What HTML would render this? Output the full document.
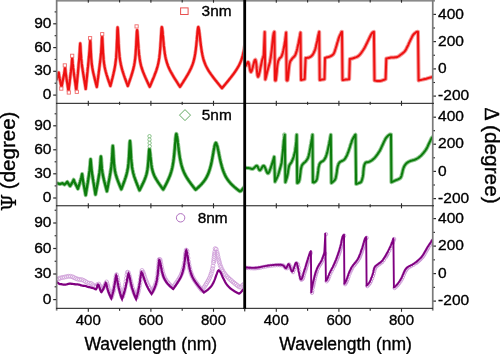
<!DOCTYPE html>
<html><head><meta charset="utf-8"><style>
html,body{margin:0;padding:0;background:#fff;width:500px;height:354px;overflow:hidden}
svg{display:block}
</style></head><body>
<svg width="500" height="354" viewBox="0 0 500 354">
<rect width="500" height="354" fill="#fff"/>
<defs><clipPath id="c1"><rect x="57" y="1" width="186" height="102"/></clipPath><clipPath id="c2"><rect x="57" y="104" width="186" height="101"/></clipPath><clipPath id="c3"><rect x="57" y="206" width="186" height="102"/></clipPath><clipPath id="c4"><rect x="246" y="1" width="186" height="102"/></clipPath><clipPath id="c5"><rect x="246" y="104" width="186" height="101"/></clipPath><clipPath id="c6"><rect x="246" y="206" width="186" height="102"/></clipPath></defs>
<path d="M56.5 80.0 L56.8 79.2 L57.0 78.3 L57.3 77.5 L57.6 76.6 L57.9 75.7 L58.2 74.8 L58.4 73.7 L58.7 72.5 L59.0 74.3 L59.2 76.0 L59.5 77.4 L59.7 78.7 L60.0 80.0 L60.2 81.2 L60.5 82.4 L60.7 83.6 L61.0 84.9 L61.2 86.1 L61.5 87.3 L61.8 86.0 L62.0 84.7 L62.3 83.4 L62.5 82.1 L62.8 80.8 L63.0 79.5 L63.3 78.2 L63.6 76.8 L63.8 75.5 L64.1 74.1 L64.3 72.6 L64.6 71.0 L64.8 69.0 L65.1 67.2 L65.4 69.6 L65.6 72.1 L65.9 74.2 L66.1 76.1 L66.4 77.9 L66.7 79.6 L66.9 81.3 L67.2 83.0 L67.5 84.7 L67.7 86.4 L68.0 88.1 L68.2 89.8 L68.5 91.5 L68.8 89.3 L69.0 87.1 L69.3 85.0 L69.6 82.8 L69.8 80.6 L70.1 78.4 L70.3 76.2 L70.6 74.0 L70.9 71.7 L71.1 69.4 L71.4 66.9 L71.7 64.1 L71.9 60.9 L72.2 57.8 L72.5 60.3 L72.7 63.2 L73.0 65.7 L73.2 67.9 L73.5 69.9 L73.7 71.8 L74.0 73.8 L74.2 75.7 L74.5 77.5 L74.8 79.4 L75.0 81.3 L75.3 83.1 L75.5 85.0 L75.8 86.8 L76.0 88.7 L76.3 90.5 L76.6 87.7 L76.8 84.8 L77.1 82.0 L77.3 79.1 L77.6 76.3 L77.9 73.4 L78.1 70.6 L78.4 67.7 L78.6 64.7 L78.9 61.8 L79.2 58.7 L79.4 55.4 L79.7 51.7 L79.9 47.4 L80.2 43.4 L80.5 46.5 L80.7 51.1 L81.0 55.2 L81.2 58.4 L81.5 61.0 L81.7 63.2 L82.0 65.2 L82.2 67.0 L82.5 68.8 L82.7 70.4 L83.0 72.1 L83.2 73.7 L83.5 75.2 L83.7 76.8 L84.0 78.3 L84.2 79.9 L84.5 81.4 L84.7 82.9 L85.0 84.5 L85.2 86.0 L85.5 87.5 L85.7 89.0 L86.0 86.5 L86.2 84.1 L86.5 81.6 L86.7 79.1 L87.0 76.6 L87.2 74.2 L87.5 71.7 L87.7 69.2 L88.0 66.7 L88.2 64.1 L88.5 61.6 L88.7 59.0 L89.0 56.3 L89.2 53.5 L89.5 50.5 L89.7 47.0 L90.0 43.1 L90.2 39.8 L90.5 42.9 L90.7 48.4 L91.0 53.6 L91.2 57.8 L91.5 61.0 L91.7 63.5 L92.0 65.5 L92.2 67.2 L92.5 68.8 L92.7 70.1 L93.0 71.4 L93.2 72.6 L93.5 73.8 L93.8 74.9 L94.0 76.0 L94.3 77.0 L94.5 78.1 L94.8 79.1 L95.0 80.1 L95.3 81.1 L95.5 82.1 L95.8 83.1 L96.0 84.1 L96.3 85.0 L96.5 86.0 L96.8 87.0 L97.1 85.1 L97.3 83.3 L97.6 81.4 L97.8 79.5 L98.1 77.7 L98.3 75.8 L98.6 73.9 L98.8 72.0 L99.1 70.1 L99.3 68.1 L99.6 66.1 L99.8 64.1 L100.1 62.1 L100.3 59.9 L100.6 57.6 L100.8 55.1 L101.1 52.2 L101.3 48.8 L101.6 44.4 L101.8 39.4 L102.1 35.8 L102.4 38.2 L102.6 42.9 L102.9 48.1 L103.1 52.7 L103.4 56.4 L103.6 59.4 L103.9 61.8 L104.1 63.8 L104.4 65.4 L104.6 66.9 L104.9 68.1 L105.1 69.3 L105.4 70.3 L105.6 71.3 L105.9 72.3 L106.1 73.1 L106.4 74.0 L106.6 74.8 L106.9 75.6 L107.1 76.4 L107.4 77.2 L107.6 78.0 L107.9 78.7 L108.1 79.5 L108.4 80.2 L108.6 81.0 L108.9 81.7 L109.1 82.4 L109.4 83.1 L109.6 83.9 L109.9 84.6 L110.1 85.3 L110.4 86.0 L110.7 85.0 L110.9 84.0 L111.2 83.1 L111.4 82.1 L111.7 81.1 L111.9 80.1 L112.2 79.0 L112.5 78.0 L112.7 77.0 L113.0 75.9 L113.2 74.9 L113.5 73.8 L113.7 72.6 L114.0 71.5 L114.3 70.3 L114.5 69.0 L114.8 67.6 L115.0 66.2 L115.3 64.5 L115.5 62.7 L115.8 60.5 L116.1 57.9 L116.3 54.6 L116.6 50.3 L116.8 44.7 L117.1 37.8 L117.3 30.9 L117.6 27.3 L117.9 29.3 L118.1 33.5 L118.4 38.5 L118.6 43.4 L118.9 47.6 L119.1 51.2 L119.4 54.2 L119.6 56.7 L119.9 58.7 L120.1 60.5 L120.4 62.1 L120.7 63.5 L120.9 64.7 L121.2 65.9 L121.4 66.9 L121.7 67.9 L121.9 68.9 L122.2 69.8 L122.4 70.6 L122.7 71.5 L123.0 72.3 L123.2 73.1 L123.5 73.9 L123.7 74.6 L124.0 75.4 L124.2 76.1 L124.5 76.9 L124.7 77.6 L125.0 78.3 L125.2 79.0 L125.5 79.8 L125.8 80.5 L126.0 81.2 L126.3 81.9 L126.5 82.6 L126.8 83.3 L127.0 83.9 L127.3 84.6 L127.5 85.3 L127.8 86.0 L128.1 85.3 L128.3 84.6 L128.6 83.9 L128.8 83.2 L129.1 82.4 L129.3 81.7 L129.6 81.0 L129.8 80.3 L130.1 79.5 L130.3 78.8 L130.6 78.1 L130.8 77.3 L131.1 76.6 L131.3 75.8 L131.6 75.0 L131.8 74.2 L132.1 73.4 L132.3 72.6 L132.6 71.7 L132.8 70.8 L133.1 69.9 L133.3 68.9 L133.6 67.9 L133.8 66.8 L134.1 65.7 L134.3 64.4 L134.6 62.9 L134.8 61.3 L135.1 59.3 L135.3 57.0 L135.6 54.3 L135.8 50.9 L136.1 46.7 L136.3 41.8 L136.6 36.6 L136.8 32.2 L137.1 30.0 L137.4 31.4 L137.6 34.2 L137.9 37.9 L138.1 41.8 L138.4 45.5 L138.6 48.9 L138.9 51.8 L139.1 54.4 L139.4 56.5 L139.6 58.4 L139.9 60.0 L140.1 61.5 L140.4 62.8 L140.6 63.9 L140.9 65.0 L141.1 66.0 L141.4 66.9 L141.6 67.7 L141.9 68.5 L142.1 69.3 L142.4 70.0 L142.6 70.7 L142.9 71.4 L143.1 72.1 L143.4 72.7 L143.7 73.4 L143.9 74.0 L144.2 74.6 L144.4 75.2 L144.7 75.8 L144.9 76.4 L145.2 77.0 L145.4 77.5 L145.7 78.1 L145.9 78.7 L146.2 79.2 L146.4 79.8 L146.7 80.3 L146.9 80.9 L147.2 81.4 L147.4 82.0 L147.7 82.5 L147.9 83.1 L148.2 83.6 L148.4 84.1 L148.7 84.7 L148.9 85.2 L149.2 85.7 L149.4 86.3 L149.7 86.8 L150.0 86.2 L150.2 85.6 L150.5 85.1 L150.7 84.5 L151.0 83.9 L151.2 83.3 L151.5 82.7 L151.7 82.1 L152.0 81.5 L152.2 80.9 L152.5 80.3 L152.7 79.7 L153.0 79.1 L153.2 78.5 L153.5 77.9 L153.7 77.3 L154.0 76.6 L154.2 76.0 L154.5 75.4 L154.7 74.7 L155.0 74.0 L155.2 73.4 L155.5 72.7 L155.8 72.0 L156.0 71.3 L156.3 70.6 L156.5 69.8 L156.8 69.0 L157.0 68.2 L157.3 67.4 L157.5 66.5 L157.8 65.5 L158.0 64.5 L158.3 63.4 L158.5 62.2 L158.8 60.8 L159.0 59.4 L159.3 57.7 L159.5 55.7 L159.8 53.5 L160.0 50.8 L160.3 47.7 L160.5 44.1 L160.8 40.1 L161.0 35.8 L161.3 31.7 L161.5 28.5 L161.8 27.0 L162.1 27.8 L162.3 29.4 L162.6 31.7 L162.8 34.4 L163.1 37.2 L163.3 40.1 L163.6 42.8 L163.8 45.4 L164.1 47.7 L164.3 49.8 L164.6 51.7 L164.8 53.5 L165.1 55.0 L165.3 56.4 L165.6 57.7 L165.8 58.8 L166.1 59.9 L166.4 60.8 L166.6 61.7 L166.9 62.6 L167.1 63.4 L167.4 64.1 L167.6 64.8 L167.9 65.5 L168.1 66.1 L168.4 66.8 L168.6 67.4 L168.9 67.9 L169.1 68.5 L169.4 69.0 L169.6 69.5 L169.9 70.1 L170.1 70.6 L170.4 71.0 L170.6 71.5 L170.9 72.0 L171.2 72.5 L171.4 72.9 L171.7 73.4 L171.9 73.8 L172.2 74.3 L172.4 74.7 L172.7 75.1 L172.9 75.6 L173.2 76.0 L173.4 76.4 L173.7 76.8 L173.9 77.3 L174.2 77.7 L174.4 78.1 L174.7 78.5 L174.9 78.9 L175.2 79.3 L175.4 79.7 L175.7 80.1 L176.0 80.5 L176.2 80.9 L176.5 81.3 L176.7 81.7 L177.0 82.1 L177.2 82.5 L177.5 82.9 L177.7 83.3 L178.0 83.7 L178.2 84.1 L178.5 84.5 L178.7 84.9 L179.0 85.2 L179.2 85.6 L179.5 86.0 L179.7 86.4 L180.0 86.8 L180.3 86.4 L180.5 86.0 L180.8 85.7 L181.0 85.3 L181.3 84.9 L181.5 84.5 L181.8 84.1 L182.0 83.7 L182.3 83.3 L182.5 83.0 L182.8 82.6 L183.0 82.2 L183.3 81.8 L183.5 81.4 L183.8 81.0 L184.0 80.6 L184.3 80.2 L184.5 79.8 L184.8 79.4 L185.0 79.0 L185.3 78.6 L185.5 78.2 L185.8 77.8 L186.0 77.4 L186.3 77.0 L186.5 76.6 L186.8 76.2 L187.0 75.7 L187.3 75.3 L187.5 74.9 L187.8 74.5 L188.0 74.0 L188.3 73.6 L188.5 73.1 L188.8 72.7 L189.0 72.2 L189.3 71.8 L189.5 71.3 L189.8 70.8 L190.0 70.3 L190.3 69.8 L190.5 69.3 L190.8 68.8 L191.0 68.3 L191.3 67.7 L191.5 67.1 L191.8 66.5 L192.0 65.9 L192.3 65.3 L192.5 64.6 L192.8 63.9 L193.0 63.2 L193.3 62.4 L193.5 61.5 L193.8 60.6 L194.0 59.6 L194.3 58.6 L194.5 57.4 L194.8 56.1 L195.0 54.7 L195.3 53.2 L195.5 51.5 L195.8 49.6 L196.0 47.5 L196.3 45.1 L196.5 42.6 L196.8 39.9 L197.0 37.0 L197.3 34.2 L197.5 31.6 L197.8 29.4 L198.0 27.8 L198.3 27.0 L198.6 27.6 L198.8 28.6 L199.1 30.1 L199.3 32.0 L199.6 34.1 L199.8 36.3 L200.1 38.5 L200.3 40.8 L200.6 42.9 L200.8 45.0 L201.1 46.9 L201.3 48.6 L201.6 50.3 L201.8 51.8 L202.1 53.2 L202.3 54.5 L202.6 55.7 L202.8 56.8 L203.1 57.8 L203.3 58.8 L203.6 59.7 L203.8 60.5 L204.1 61.3 L204.4 62.0 L204.6 62.7 L204.9 63.4 L205.1 64.0 L205.4 64.6 L205.6 65.2 L205.9 65.7 L206.1 66.2 L206.4 66.7 L206.6 67.2 L206.9 67.7 L207.1 68.2 L207.4 68.6 L207.6 69.1 L207.9 69.5 L208.1 69.9 L208.4 70.3 L208.6 70.8 L208.9 71.2 L209.1 71.5 L209.4 71.9 L209.6 72.3 L209.9 72.7 L210.2 73.1 L210.4 73.4 L210.7 73.8 L210.9 74.1 L211.2 74.5 L211.4 74.8 L211.7 75.2 L211.9 75.5 L212.2 75.9 L212.4 76.2 L212.7 76.6 L212.9 76.9 L213.2 77.2 L213.4 77.6 L213.7 77.9 L213.9 78.2 L214.2 78.5 L214.4 78.9 L214.7 79.2 L214.9 79.5 L215.2 79.8 L215.4 80.2 L215.7 80.5 L215.9 80.8 L216.2 81.1 L216.5 81.4 L216.7 81.7 L217.0 82.0 L217.2 82.4 L217.5 82.7 L217.7 83.0 L218.0 83.3 L218.2 83.6 L218.5 83.9 L218.7 84.2 L219.0 84.5 L219.2 84.8 L219.5 85.2 L219.7 85.5 L220.0 85.8 L220.2 86.1 L220.5 86.4 L220.7 86.7 L221.0 87.0 L221.2 87.3 L221.5 87.6 L221.7 87.9 L222.0 88.2 L222.2 87.9 L222.5 87.6 L222.8 87.3 L223.0 87.0 L223.2 86.7 L223.5 86.4 L223.8 86.1 L224.0 85.8 L224.2 85.5 L224.5 85.2 L224.8 84.9 L225.0 84.6 L225.2 84.3 L225.5 84.0 L225.8 83.7 L226.0 83.4 L226.2 83.1 L226.5 82.8 L226.8 82.5 L227.0 82.2 L227.2 81.9 L227.5 81.6 L227.8 81.3 L228.0 81.0 L228.2 80.7 L228.5 80.4 L228.8 80.0 L229.0 79.7 L229.2 79.4 L229.5 79.1 L229.8 78.8 L230.0 78.5 L230.2 78.2 L230.5 77.8 L230.8 77.5 L231.0 77.2 L231.2 76.9 L231.5 76.6 L231.8 76.2 L232.0 75.9 L232.2 75.6 L232.5 75.3 L232.8 74.9 L233.0 74.6 L233.2 74.3 L233.5 73.9 L233.8 73.6 L234.0 73.2 L234.2 72.9 L234.5 72.5 L234.8 72.2 L235.0 71.8 L235.2 71.5 L235.5 71.1 L235.8 70.7 L236.0 70.3 L236.2 70.0 L236.5 69.6 L236.8 69.2 L237.0 68.8 L237.2 68.4 L237.5 68.0 L237.8 67.5 L238.0 67.1 L238.2 66.7 L238.5 66.2 L238.8 65.8 L239.0 65.3 L239.2 64.8 L239.5 64.3 L239.8 63.8 L240.0 63.2 L240.2 62.7 L240.5 62.1 L240.8 61.5 L241.0 60.8 L241.2 60.2 L241.5 59.5 L241.8 58.7 L242.0 57.9 L242.2 57.1 L242.5 56.2 L242.8 55.3 L243.0 54.3 L243.2 53.2 L243.5 52.1 L243.8 50.9 L244.0 49.5 L244.2 48.1 L244.5 46.6 L244.8 44.9 L245.0 43.2 L245.2 41.3 L245.5 39.3 L245.8 37.2 L246.0 35.0 L246.2 32.8 L246.5 30.7 L246.8 28.5 L247.0 26.6 L247.2 24.9 L247.5 23.5 L247.8 22.5 L248.0 22.0" fill="none" stroke="#f59a9a" stroke-width="3.6" stroke-linejoin="round" clip-path="url(#c1)"/>
<path d="M56.5 80.0 L56.8 79.2 L57.0 78.3 L57.3 77.5 L57.6 76.6 L57.9 75.7 L58.2 74.8 L58.4 73.7 L58.7 72.5 L59.0 74.3 L59.2 76.0 L59.5 77.4 L59.7 78.7 L60.0 80.0 L60.2 81.2 L60.5 82.4 L60.7 83.6 L61.0 84.9 L61.2 86.1 L61.5 87.3 L61.8 86.0 L62.0 84.7 L62.3 83.4 L62.5 82.1 L62.8 80.8 L63.0 79.5 L63.3 78.2 L63.6 76.8 L63.8 75.5 L64.1 74.1 L64.3 72.6 L64.6 71.0 L64.8 69.0 L65.1 67.2 L65.4 69.6 L65.6 72.1 L65.9 74.2 L66.1 76.1 L66.4 77.9 L66.7 79.6 L66.9 81.3 L67.2 83.0 L67.5 84.7 L67.7 86.4 L68.0 88.1 L68.2 89.8 L68.5 91.5 L68.8 89.3 L69.0 87.1 L69.3 85.0 L69.6 82.8 L69.8 80.6 L70.1 78.4 L70.3 76.2 L70.6 74.0 L70.9 71.7 L71.1 69.4 L71.4 66.9 L71.7 64.1 L71.9 60.9 L72.2 57.8 L72.5 60.3 L72.7 63.2 L73.0 65.7 L73.2 67.9 L73.5 69.9 L73.7 71.8 L74.0 73.8 L74.2 75.7 L74.5 77.5 L74.8 79.4 L75.0 81.3 L75.3 83.1 L75.5 85.0 L75.8 86.8 L76.0 88.7 L76.3 90.5 L76.6 87.7 L76.8 84.8 L77.1 82.0 L77.3 79.1 L77.6 76.3 L77.9 73.4 L78.1 70.6 L78.4 67.7 L78.6 64.7 L78.9 61.8 L79.2 58.7 L79.4 55.4 L79.7 51.7 L79.9 47.4 L80.2 43.4 L80.5 46.5 L80.7 51.1 L81.0 55.2 L81.2 58.4 L81.5 61.0 L81.7 63.2 L82.0 65.2 L82.2 67.0 L82.5 68.8 L82.7 70.4 L83.0 72.1 L83.2 73.7 L83.5 75.2 L83.7 76.8 L84.0 78.3 L84.2 79.9 L84.5 81.4 L84.7 82.9 L85.0 84.5 L85.2 86.0 L85.5 87.5 L85.7 89.0 L86.0 86.5 L86.2 84.1 L86.5 81.6 L86.7 79.1 L87.0 76.6 L87.2 74.2 L87.5 71.7 L87.7 69.2 L88.0 66.7 L88.2 64.1 L88.5 61.6 L88.7 59.0 L89.0 56.3 L89.2 53.5 L89.5 50.5 L89.7 47.0 L90.0 43.1 L90.2 39.8 L90.5 42.9 L90.7 48.4 L91.0 53.6 L91.2 57.8 L91.5 61.0 L91.7 63.5 L92.0 65.5 L92.2 67.2 L92.5 68.8 L92.7 70.1 L93.0 71.4 L93.2 72.6 L93.5 73.8 L93.8 74.9 L94.0 76.0 L94.3 77.0 L94.5 78.1 L94.8 79.1 L95.0 80.1 L95.3 81.1 L95.5 82.1 L95.8 83.1 L96.0 84.1 L96.3 85.0 L96.5 86.0 L96.8 87.0 L97.1 85.1 L97.3 83.3 L97.6 81.4 L97.8 79.5 L98.1 77.7 L98.3 75.8 L98.6 73.9 L98.8 72.0 L99.1 70.1 L99.3 68.1 L99.6 66.1 L99.8 64.1 L100.1 62.1 L100.3 59.9 L100.6 57.6 L100.8 55.1 L101.1 52.2 L101.3 48.8 L101.6 44.4 L101.8 39.4 L102.1 35.8 L102.4 38.2 L102.6 42.9 L102.9 48.1 L103.1 52.7 L103.4 56.4 L103.6 59.4 L103.9 61.8 L104.1 63.8 L104.4 65.4 L104.6 66.9 L104.9 68.1 L105.1 69.3 L105.4 70.3 L105.6 71.3 L105.9 72.3 L106.1 73.1 L106.4 74.0 L106.6 74.8 L106.9 75.6 L107.1 76.4 L107.4 77.2 L107.6 78.0 L107.9 78.7 L108.1 79.5 L108.4 80.2 L108.6 81.0 L108.9 81.7 L109.1 82.4 L109.4 83.1 L109.6 83.9 L109.9 84.6 L110.1 85.3 L110.4 86.0 L110.7 85.0 L110.9 84.0 L111.2 83.1 L111.4 82.1 L111.7 81.1 L111.9 80.1 L112.2 79.0 L112.5 78.0 L112.7 77.0 L113.0 75.9 L113.2 74.9 L113.5 73.8 L113.7 72.6 L114.0 71.5 L114.3 70.3 L114.5 69.0 L114.8 67.6 L115.0 66.2 L115.3 64.5 L115.5 62.7 L115.8 60.5 L116.1 57.9 L116.3 54.6 L116.6 50.3 L116.8 44.7 L117.1 37.8 L117.3 30.9 L117.6 27.3 L117.9 29.3 L118.1 33.5 L118.4 38.5 L118.6 43.4 L118.9 47.6 L119.1 51.2 L119.4 54.2 L119.6 56.7 L119.9 58.7 L120.1 60.5 L120.4 62.1 L120.7 63.5 L120.9 64.7 L121.2 65.9 L121.4 66.9 L121.7 67.9 L121.9 68.9 L122.2 69.8 L122.4 70.6 L122.7 71.5 L123.0 72.3 L123.2 73.1 L123.5 73.9 L123.7 74.6 L124.0 75.4 L124.2 76.1 L124.5 76.9 L124.7 77.6 L125.0 78.3 L125.2 79.0 L125.5 79.8 L125.8 80.5 L126.0 81.2 L126.3 81.9 L126.5 82.6 L126.8 83.3 L127.0 83.9 L127.3 84.6 L127.5 85.3 L127.8 86.0 L128.1 85.3 L128.3 84.6 L128.6 83.9 L128.8 83.2 L129.1 82.4 L129.3 81.7 L129.6 81.0 L129.8 80.3 L130.1 79.5 L130.3 78.8 L130.6 78.1 L130.8 77.3 L131.1 76.6 L131.3 75.8 L131.6 75.0 L131.8 74.2 L132.1 73.4 L132.3 72.6 L132.6 71.7 L132.8 70.8 L133.1 69.9 L133.3 68.9 L133.6 67.9 L133.8 66.8 L134.1 65.7 L134.3 64.4 L134.6 62.9 L134.8 61.3 L135.1 59.3 L135.3 57.0 L135.6 54.3 L135.8 50.9 L136.1 46.7 L136.3 41.8 L136.6 36.6 L136.8 32.2 L137.1 30.0 L137.4 31.4 L137.6 34.2 L137.9 37.9 L138.1 41.8 L138.4 45.5 L138.6 48.9 L138.9 51.8 L139.1 54.4 L139.4 56.5 L139.6 58.4 L139.9 60.0 L140.1 61.5 L140.4 62.8 L140.6 63.9 L140.9 65.0 L141.1 66.0 L141.4 66.9 L141.6 67.7 L141.9 68.5 L142.1 69.3 L142.4 70.0 L142.6 70.7 L142.9 71.4 L143.1 72.1 L143.4 72.7 L143.7 73.4 L143.9 74.0 L144.2 74.6 L144.4 75.2 L144.7 75.8 L144.9 76.4 L145.2 77.0 L145.4 77.5 L145.7 78.1 L145.9 78.7 L146.2 79.2 L146.4 79.8 L146.7 80.3 L146.9 80.9 L147.2 81.4 L147.4 82.0 L147.7 82.5 L147.9 83.1 L148.2 83.6 L148.4 84.1 L148.7 84.7 L148.9 85.2 L149.2 85.7 L149.4 86.3 L149.7 86.8 L150.0 86.2 L150.2 85.6 L150.5 85.1 L150.7 84.5 L151.0 83.9 L151.2 83.3 L151.5 82.7 L151.7 82.1 L152.0 81.5 L152.2 80.9 L152.5 80.3 L152.7 79.7 L153.0 79.1 L153.2 78.5 L153.5 77.9 L153.7 77.3 L154.0 76.6 L154.2 76.0 L154.5 75.4 L154.7 74.7 L155.0 74.0 L155.2 73.4 L155.5 72.7 L155.8 72.0 L156.0 71.3 L156.3 70.6 L156.5 69.8 L156.8 69.0 L157.0 68.2 L157.3 67.4 L157.5 66.5 L157.8 65.5 L158.0 64.5 L158.3 63.4 L158.5 62.2 L158.8 60.8 L159.0 59.4 L159.3 57.7 L159.5 55.7 L159.8 53.5 L160.0 50.8 L160.3 47.7 L160.5 44.1 L160.8 40.1 L161.0 35.8 L161.3 31.7 L161.5 28.5 L161.8 27.0 L162.1 27.8 L162.3 29.4 L162.6 31.7 L162.8 34.4 L163.1 37.2 L163.3 40.1 L163.6 42.8 L163.8 45.4 L164.1 47.7 L164.3 49.8 L164.6 51.7 L164.8 53.5 L165.1 55.0 L165.3 56.4 L165.6 57.7 L165.8 58.8 L166.1 59.9 L166.4 60.8 L166.6 61.7 L166.9 62.6 L167.1 63.4 L167.4 64.1 L167.6 64.8 L167.9 65.5 L168.1 66.1 L168.4 66.8 L168.6 67.4 L168.9 67.9 L169.1 68.5 L169.4 69.0 L169.6 69.5 L169.9 70.1 L170.1 70.6 L170.4 71.0 L170.6 71.5 L170.9 72.0 L171.2 72.5 L171.4 72.9 L171.7 73.4 L171.9 73.8 L172.2 74.3 L172.4 74.7 L172.7 75.1 L172.9 75.6 L173.2 76.0 L173.4 76.4 L173.7 76.8 L173.9 77.3 L174.2 77.7 L174.4 78.1 L174.7 78.5 L174.9 78.9 L175.2 79.3 L175.4 79.7 L175.7 80.1 L176.0 80.5 L176.2 80.9 L176.5 81.3 L176.7 81.7 L177.0 82.1 L177.2 82.5 L177.5 82.9 L177.7 83.3 L178.0 83.7 L178.2 84.1 L178.5 84.5 L178.7 84.9 L179.0 85.2 L179.2 85.6 L179.5 86.0 L179.7 86.4 L180.0 86.8 L180.3 86.4 L180.5 86.0 L180.8 85.7 L181.0 85.3 L181.3 84.9 L181.5 84.5 L181.8 84.1 L182.0 83.7 L182.3 83.3 L182.5 83.0 L182.8 82.6 L183.0 82.2 L183.3 81.8 L183.5 81.4 L183.8 81.0 L184.0 80.6 L184.3 80.2 L184.5 79.8 L184.8 79.4 L185.0 79.0 L185.3 78.6 L185.5 78.2 L185.8 77.8 L186.0 77.4 L186.3 77.0 L186.5 76.6 L186.8 76.2 L187.0 75.7 L187.3 75.3 L187.5 74.9 L187.8 74.5 L188.0 74.0 L188.3 73.6 L188.5 73.1 L188.8 72.7 L189.0 72.2 L189.3 71.8 L189.5 71.3 L189.8 70.8 L190.0 70.3 L190.3 69.8 L190.5 69.3 L190.8 68.8 L191.0 68.3 L191.3 67.7 L191.5 67.1 L191.8 66.5 L192.0 65.9 L192.3 65.3 L192.5 64.6 L192.8 63.9 L193.0 63.2 L193.3 62.4 L193.5 61.5 L193.8 60.6 L194.0 59.6 L194.3 58.6 L194.5 57.4 L194.8 56.1 L195.0 54.7 L195.3 53.2 L195.5 51.5 L195.8 49.6 L196.0 47.5 L196.3 45.1 L196.5 42.6 L196.8 39.9 L197.0 37.0 L197.3 34.2 L197.5 31.6 L197.8 29.4 L198.0 27.8 L198.3 27.0 L198.6 27.6 L198.8 28.6 L199.1 30.1 L199.3 32.0 L199.6 34.1 L199.8 36.3 L200.1 38.5 L200.3 40.8 L200.6 42.9 L200.8 45.0 L201.1 46.9 L201.3 48.6 L201.6 50.3 L201.8 51.8 L202.1 53.2 L202.3 54.5 L202.6 55.7 L202.8 56.8 L203.1 57.8 L203.3 58.8 L203.6 59.7 L203.8 60.5 L204.1 61.3 L204.4 62.0 L204.6 62.7 L204.9 63.4 L205.1 64.0 L205.4 64.6 L205.6 65.2 L205.9 65.7 L206.1 66.2 L206.4 66.7 L206.6 67.2 L206.9 67.7 L207.1 68.2 L207.4 68.6 L207.6 69.1 L207.9 69.5 L208.1 69.9 L208.4 70.3 L208.6 70.8 L208.9 71.2 L209.1 71.5 L209.4 71.9 L209.6 72.3 L209.9 72.7 L210.2 73.1 L210.4 73.4 L210.7 73.8 L210.9 74.1 L211.2 74.5 L211.4 74.8 L211.7 75.2 L211.9 75.5 L212.2 75.9 L212.4 76.2 L212.7 76.6 L212.9 76.9 L213.2 77.2 L213.4 77.6 L213.7 77.9 L213.9 78.2 L214.2 78.5 L214.4 78.9 L214.7 79.2 L214.9 79.5 L215.2 79.8 L215.4 80.2 L215.7 80.5 L215.9 80.8 L216.2 81.1 L216.5 81.4 L216.7 81.7 L217.0 82.0 L217.2 82.4 L217.5 82.7 L217.7 83.0 L218.0 83.3 L218.2 83.6 L218.5 83.9 L218.7 84.2 L219.0 84.5 L219.2 84.8 L219.5 85.2 L219.7 85.5 L220.0 85.8 L220.2 86.1 L220.5 86.4 L220.7 86.7 L221.0 87.0 L221.2 87.3 L221.5 87.6 L221.7 87.9 L222.0 88.2 L222.2 87.9 L222.5 87.6 L222.8 87.3 L223.0 87.0 L223.2 86.7 L223.5 86.4 L223.8 86.1 L224.0 85.8 L224.2 85.5 L224.5 85.2 L224.8 84.9 L225.0 84.6 L225.2 84.3 L225.5 84.0 L225.8 83.7 L226.0 83.4 L226.2 83.1 L226.5 82.8 L226.8 82.5 L227.0 82.2 L227.2 81.9 L227.5 81.6 L227.8 81.3 L228.0 81.0 L228.2 80.7 L228.5 80.4 L228.8 80.0 L229.0 79.7 L229.2 79.4 L229.5 79.1 L229.8 78.8 L230.0 78.5 L230.2 78.2 L230.5 77.8 L230.8 77.5 L231.0 77.2 L231.2 76.9 L231.5 76.6 L231.8 76.2 L232.0 75.9 L232.2 75.6 L232.5 75.3 L232.8 74.9 L233.0 74.6 L233.2 74.3 L233.5 73.9 L233.8 73.6 L234.0 73.2 L234.2 72.9 L234.5 72.5 L234.8 72.2 L235.0 71.8 L235.2 71.5 L235.5 71.1 L235.8 70.7 L236.0 70.3 L236.2 70.0 L236.5 69.6 L236.8 69.2 L237.0 68.8 L237.2 68.4 L237.5 68.0 L237.8 67.5 L238.0 67.1 L238.2 66.7 L238.5 66.2 L238.8 65.8 L239.0 65.3 L239.2 64.8 L239.5 64.3 L239.8 63.8 L240.0 63.2 L240.2 62.7 L240.5 62.1 L240.8 61.5 L241.0 60.8 L241.2 60.2 L241.5 59.5 L241.8 58.7 L242.0 57.9 L242.2 57.1 L242.5 56.2 L242.8 55.3 L243.0 54.3 L243.2 53.2 L243.5 52.1 L243.8 50.9 L244.0 49.5 L244.2 48.1 L244.5 46.6 L244.8 44.9 L245.0 43.2 L245.2 41.3 L245.5 39.3 L245.8 37.2 L246.0 35.0 L246.2 32.8 L246.5 30.7 L246.8 28.5 L247.0 26.6 L247.2 24.9 L247.5 23.5 L247.8 22.5 L248.0 22.0" fill="none" stroke="#ee1111" stroke-width="2.2" stroke-linejoin="round" clip-path="url(#c1)"/>

<path d="M56.5 183.2 L56.8 183.2 L57.0 183.2 L57.3 183.3 L57.6 183.4 L57.8 183.4 L58.1 183.5 L58.4 183.6 L58.6 183.7 L58.9 183.8 L59.1 183.8 L59.4 183.9 L59.7 184.0 L59.9 184.0 L60.2 184.0 L60.5 183.9 L60.8 183.8 L61.0 183.7 L61.3 183.6 L61.6 183.5 L61.9 183.4 L62.1 183.3 L62.4 183.2 L62.7 183.4 L62.9 183.6 L63.2 183.8 L63.5 184.0 L63.7 184.1 L64.0 184.3 L64.2 184.4 L64.5 184.6 L64.8 184.4 L65.0 184.1 L65.3 183.9 L65.5 183.7 L65.8 183.4 L66.0 183.2 L66.3 183.0 L66.5 182.7 L66.8 182.5 L67.0 182.1 L67.3 181.8 L67.6 182.3 L67.8 182.8 L68.1 183.2 L68.3 183.6 L68.6 183.9 L68.8 184.3 L69.1 184.6 L69.3 185.0 L69.6 185.3 L69.8 185.7 L70.1 186.0 L70.4 185.6 L70.6 185.2 L70.9 184.8 L71.1 184.4 L71.4 184.0 L71.6 183.6 L71.9 183.1 L72.2 182.7 L72.4 182.3 L72.7 181.9 L72.9 181.4 L73.2 180.9 L73.4 180.3 L73.7 179.7 L74.0 180.4 L74.2 181.2 L74.5 181.9 L74.8 182.5 L75.0 183.1 L75.3 183.6 L75.5 184.1 L75.8 184.7 L76.1 185.2 L76.3 185.7 L76.6 186.2 L76.9 186.7 L77.1 187.3 L77.4 187.8 L77.6 188.3 L77.9 188.8 L78.2 188.0 L78.4 187.1 L78.7 186.3 L79.0 185.5 L79.2 184.6 L79.5 183.8 L79.7 182.9 L80.0 182.1 L80.3 181.2 L80.5 180.4 L80.8 179.5 L81.0 178.6 L81.3 177.6 L81.6 176.4 L81.8 175.2 L82.1 174.0 L82.4 175.9 L82.6 178.0 L82.9 179.7 L83.1 181.3 L83.4 182.7 L83.6 184.2 L83.9 185.6 L84.2 187.0 L84.4 188.3 L84.7 189.7 L84.9 191.1 L85.2 192.5 L85.4 193.8 L85.7 195.2 L86.0 193.6 L86.2 192.0 L86.5 190.5 L86.7 188.9 L87.0 187.3 L87.2 185.7 L87.5 184.1 L87.8 182.5 L88.0 180.9 L88.3 179.2 L88.5 177.6 L88.8 175.9 L89.1 174.1 L89.3 172.2 L89.6 170.2 L89.8 167.9 L90.1 165.1 L90.3 161.8 L90.6 159.2 L90.9 161.7 L91.1 165.0 L91.4 167.7 L91.6 170.0 L91.9 172.0 L92.1 173.8 L92.4 175.5 L92.7 177.2 L92.9 178.8 L93.2 180.4 L93.4 182.0 L93.7 183.6 L94.0 185.2 L94.2 186.7 L94.5 188.3 L94.7 189.8 L95.0 191.4 L95.2 193.0 L95.5 194.5 L95.8 193.1 L96.0 191.8 L96.3 190.4 L96.5 189.1 L96.8 187.7 L97.0 186.3 L97.3 185.0 L97.6 183.6 L97.8 182.2 L98.1 180.7 L98.3 179.3 L98.6 177.8 L98.8 176.3 L99.1 174.7 L99.4 173.0 L99.6 171.2 L99.9 169.0 L100.1 166.4 L100.4 163.0 L100.6 159.1 L100.9 156.4 L101.2 158.7 L101.4 162.5 L101.7 166.0 L101.9 168.7 L102.2 170.8 L102.4 172.5 L102.7 174.0 L102.9 175.3 L103.2 176.5 L103.4 177.7 L103.7 178.7 L103.9 179.8 L104.2 180.8 L104.4 181.8 L104.7 182.8 L104.9 183.7 L105.2 184.7 L105.4 185.7 L105.7 186.6 L105.9 187.6 L106.2 188.5 L106.4 189.4 L106.7 190.4 L106.9 191.3 L107.2 190.0 L107.4 188.7 L107.7 187.4 L107.9 186.1 L108.2 184.7 L108.4 183.4 L108.7 182.1 L109.0 180.7 L109.2 179.4 L109.5 178.0 L109.7 176.6 L110.0 175.2 L110.2 173.7 L110.5 172.2 L110.7 170.6 L111.0 168.8 L111.3 166.9 L111.5 164.7 L111.8 161.9 L112.0 158.4 L112.3 154.0 L112.5 149.0 L112.8 145.8 L113.0 147.8 L113.3 151.7 L113.5 156.0 L113.8 160.0 L114.0 163.2 L114.3 165.9 L114.5 167.9 L114.8 169.7 L115.0 171.1 L115.3 172.4 L115.5 173.5 L115.8 174.5 L116.0 175.4 L116.3 176.2 L116.5 177.0 L116.8 177.8 L117.0 178.5 L117.3 179.2 L117.5 179.9 L117.8 180.6 L118.0 181.3 L118.3 181.9 L118.5 182.6 L118.8 183.2 L119.0 183.8 L119.3 184.5 L119.5 185.1 L119.8 185.7 L120.0 186.3 L120.3 186.9 L120.5 187.5 L120.8 188.1 L121.0 188.7 L121.3 189.3 L121.6 188.6 L121.8 188.0 L122.1 187.3 L122.3 186.6 L122.6 186.0 L122.8 185.3 L123.1 184.6 L123.3 183.9 L123.6 183.2 L123.9 182.5 L124.1 181.8 L124.4 181.1 L124.6 180.4 L124.9 179.6 L125.1 178.9 L125.4 178.1 L125.7 177.3 L125.9 176.5 L126.2 175.7 L126.4 174.8 L126.7 173.8 L126.9 172.8 L127.2 171.7 L127.4 170.5 L127.7 169.1 L128.0 167.5 L128.2 165.5 L128.5 163.2 L128.7 160.3 L129.0 156.7 L129.2 152.3 L129.5 147.4 L129.7 143.1 L130.0 140.9 L130.2 142.7 L130.5 146.5 L130.8 151.0 L131.0 155.2 L131.2 158.9 L131.5 161.9 L131.8 164.3 L132.0 166.4 L132.2 168.1 L132.5 169.6 L132.8 170.9 L133.0 172.0 L133.2 173.0 L133.5 174.0 L133.8 174.9 L134.0 175.8 L134.2 176.6 L134.5 177.3 L134.8 178.1 L135.0 178.8 L135.2 179.5 L135.5 180.2 L135.8 180.9 L136.0 181.5 L136.2 182.2 L136.5 182.8 L136.8 183.5 L137.0 184.1 L137.2 184.8 L137.5 185.4 L137.8 186.0 L138.0 186.6 L138.2 187.2 L138.5 187.9 L138.8 188.5 L139.0 189.1 L139.2 189.7 L139.5 190.3 L139.8 189.8 L140.0 189.3 L140.3 188.8 L140.5 188.3 L140.8 187.8 L141.0 187.3 L141.3 186.8 L141.5 186.3 L141.8 185.8 L142.0 185.3 L142.3 184.7 L142.5 184.2 L142.8 183.7 L143.1 183.1 L143.3 182.6 L143.6 182.0 L143.8 181.5 L144.1 180.9 L144.3 180.3 L144.6 179.7 L144.8 179.1 L145.1 178.5 L145.3 177.8 L145.6 177.1 L145.8 176.3 L146.1 175.5 L146.4 174.6 L146.6 173.7 L146.9 172.6 L147.1 171.3 L147.4 169.9 L147.6 168.2 L147.9 166.1 L148.1 163.5 L148.4 160.5 L148.6 157.0 L148.9 153.3 L149.1 150.3 L149.4 148.8 L149.7 149.6 L149.9 151.4 L150.2 153.7 L150.4 156.2 L150.7 158.7 L150.9 161.1 L151.2 163.2 L151.4 165.0 L151.7 166.6 L151.9 167.9 L152.2 169.2 L152.4 170.2 L152.7 171.2 L152.9 172.0 L153.2 172.8 L153.4 173.5 L153.7 174.2 L153.9 174.8 L154.2 175.4 L154.4 175.9 L154.7 176.5 L154.9 177.0 L155.2 177.4 L155.4 177.9 L155.7 178.4 L155.9 178.8 L156.2 179.2 L156.4 179.6 L156.7 180.0 L156.9 180.4 L157.2 180.8 L157.4 181.2 L157.7 181.6 L157.9 182.0 L158.2 182.4 L158.4 182.8 L158.7 183.1 L158.9 183.5 L159.2 183.9 L159.4 184.2 L159.7 184.6 L159.9 184.9 L160.2 185.3 L160.4 185.7 L160.7 186.0 L160.9 186.4 L161.2 186.7 L161.4 187.1 L161.7 187.4 L161.9 187.8 L162.2 188.1 L162.4 188.5 L162.7 188.8 L162.9 189.2 L163.2 189.5 L163.5 189.0 L163.7 188.6 L164.0 188.1 L164.2 187.6 L164.5 187.2 L164.7 186.7 L165.0 186.2 L165.2 185.8 L165.5 185.3 L165.7 184.8 L166.0 184.3 L166.2 183.8 L166.5 183.3 L166.7 182.8 L167.0 182.3 L167.2 181.8 L167.5 181.3 L167.7 180.7 L168.0 180.2 L168.2 179.6 L168.5 179.1 L168.7 178.5 L169.0 177.9 L169.2 177.3 L169.5 176.7 L169.8 176.1 L170.0 175.4 L170.3 174.7 L170.5 174.0 L170.8 173.2 L171.0 172.5 L171.3 171.6 L171.5 170.7 L171.8 169.8 L172.0 168.8 L172.3 167.7 L172.5 166.5 L172.8 165.2 L173.0 163.7 L173.3 162.1 L173.5 160.4 L173.8 158.4 L174.0 156.2 L174.3 153.8 L174.5 151.1 L174.8 148.2 L175.0 145.1 L175.3 142.0 L175.5 139.1 L175.8 136.6 L176.0 134.8 L176.3 133.9 L176.6 134.4 L176.8 135.4 L177.1 136.7 L177.3 138.3 L177.6 140.2 L177.8 142.2 L178.1 144.3 L178.3 146.4 L178.6 148.5 L178.8 150.4 L179.1 152.3 L179.3 154.1 L179.6 155.8 L179.8 157.3 L180.1 158.8 L180.3 160.1 L180.6 161.3 L180.8 162.5 L181.1 163.6 L181.3 164.6 L181.6 165.5 L181.8 166.4 L182.1 167.2 L182.3 168.0 L182.6 168.8 L182.8 169.5 L183.1 170.1 L183.3 170.8 L183.6 171.4 L183.8 172.0 L184.1 172.5 L184.3 173.1 L184.6 173.6 L184.8 174.1 L185.1 174.6 L185.3 175.1 L185.6 175.5 L185.8 176.0 L186.1 176.4 L186.3 176.9 L186.6 177.3 L186.8 177.7 L187.1 178.1 L187.3 178.5 L187.6 178.9 L187.8 179.3 L188.1 179.7 L188.3 180.0 L188.6 180.4 L188.8 180.8 L189.1 181.1 L189.3 181.5 L189.6 181.8 L189.8 182.2 L190.1 182.5 L190.3 182.9 L190.6 183.2 L190.8 183.6 L191.1 183.9 L191.3 184.2 L191.6 184.6 L191.8 184.9 L192.1 185.2 L192.3 185.6 L192.6 185.9 L192.8 186.2 L193.1 186.5 L193.3 186.9 L193.6 187.2 L193.8 187.5 L194.1 187.8 L194.3 188.1 L194.6 188.4 L194.8 188.8 L195.1 189.1 L195.3 189.4 L195.6 189.7 L195.9 189.5 L196.1 189.3 L196.4 189.1 L196.6 188.8 L196.9 188.6 L197.1 188.4 L197.4 188.2 L197.6 187.9 L197.9 187.7 L198.1 187.5 L198.4 187.3 L198.6 187.0 L198.9 186.8 L199.1 186.5 L199.4 186.3 L199.6 186.1 L199.9 185.8 L200.1 185.6 L200.4 185.3 L200.7 185.0 L200.9 184.8 L201.2 184.5 L201.4 184.2 L201.7 184.0 L201.9 183.7 L202.2 183.4 L202.4 183.1 L202.7 182.8 L202.9 182.5 L203.2 182.2 L203.4 181.9 L203.7 181.6 L203.9 181.3 L204.2 180.9 L204.4 180.6 L204.7 180.2 L204.9 179.8 L205.2 179.5 L205.4 179.1 L205.7 178.7 L206.0 178.3 L206.2 177.8 L206.5 177.4 L206.7 176.9 L207.0 176.4 L207.2 175.9 L207.5 175.4 L207.7 174.9 L208.0 174.3 L208.2 173.7 L208.5 173.1 L208.7 172.4 L209.0 171.7 L209.2 171.0 L209.5 170.2 L209.7 169.4 L210.0 168.6 L210.2 167.7 L210.5 166.7 L210.8 165.7 L211.0 164.7 L211.3 163.6 L211.5 162.4 L211.8 161.2 L212.0 159.9 L212.3 158.6 L212.5 157.2 L212.8 155.8 L213.0 154.4 L213.3 153.0 L213.5 151.5 L213.8 150.1 L214.0 148.7 L214.3 147.4 L214.5 146.2 L214.8 145.2 L215.0 144.3 L215.3 143.6 L215.5 143.1 L215.8 142.8 L216.1 143.0 L216.3 143.4 L216.6 144.0 L216.8 144.6 L217.1 145.4 L217.3 146.4 L217.6 147.4 L217.8 148.5 L218.1 149.6 L218.3 150.8 L218.6 152.1 L218.8 153.3 L219.1 154.6 L219.3 155.8 L219.6 157.0 L219.8 158.2 L220.1 159.4 L220.3 160.5 L220.6 161.6 L220.8 162.7 L221.1 163.7 L221.3 164.7 L221.6 165.6 L221.8 166.5 L222.1 167.4 L222.3 168.2 L222.6 169.0 L222.8 169.7 L223.1 170.5 L223.3 171.1 L223.6 171.8 L223.8 172.4 L224.1 173.1 L224.3 173.6 L224.6 174.2 L224.8 174.7 L225.1 175.3 L225.3 175.8 L225.6 176.2 L225.8 176.7 L226.1 177.1 L226.3 177.6 L226.6 178.0 L226.8 178.4 L227.1 178.8 L227.3 179.2 L227.6 179.5 L227.8 179.9 L228.1 180.2 L228.3 180.6 L228.6 180.9 L228.8 181.2 L229.1 181.5 L229.3 181.9 L229.6 182.2 L229.8 182.4 L230.1 182.7 L230.3 183.0 L230.6 183.3 L230.8 183.6 L231.1 183.8 L231.3 184.1 L231.6 184.3 L231.8 184.6 L232.1 184.8 L232.3 185.1 L232.6 185.3 L232.8 185.6 L233.1 185.8 L233.3 186.0 L233.6 186.3 L233.8 186.5 L234.1 186.7 L234.3 186.9 L234.6 187.1 L234.8 187.4 L235.1 187.6 L235.3 187.8 L235.6 188.0 L235.8 188.2 L236.1 188.4 L236.3 188.6 L236.6 188.8 L236.8 189.0 L237.1 189.2 L237.3 189.4 L237.6 189.6 L237.8 189.8 L238.1 190.0 L238.3 190.2 L238.6 190.4 L238.8 190.6 L239.1 190.7 L239.3 190.9 L239.6 191.1 L239.8 191.3 L240.1 191.3 L240.3 191.2 L240.6 191.1 L240.8 190.9 L241.1 190.8 L241.4 190.5 L241.6 190.3 L241.9 190.0 L242.1 189.7 L242.4 189.3 L242.6 189.0 L242.9 188.7 L243.2 188.3 L243.4 188.0 L243.7 187.6 L243.9 187.3 L244.2 187.0 L244.4 186.8 L244.7 186.5 L245.0 186.4 L245.2 186.2 L245.5 186.1 L245.7 186.0 L246.0 186.0" fill="none" stroke="#90c890" stroke-width="4.0" stroke-linejoin="round" clip-path="url(#c2)"/>
<path d="M56.5 183.2 L56.8 183.2 L57.0 183.2 L57.3 183.3 L57.6 183.4 L57.8 183.4 L58.1 183.5 L58.4 183.6 L58.6 183.7 L58.9 183.8 L59.1 183.8 L59.4 183.9 L59.7 184.0 L59.9 184.0 L60.2 184.0 L60.5 183.9 L60.8 183.8 L61.0 183.7 L61.3 183.6 L61.6 183.5 L61.9 183.4 L62.1 183.3 L62.4 183.2 L62.7 183.4 L62.9 183.6 L63.2 183.8 L63.5 184.0 L63.7 184.1 L64.0 184.3 L64.2 184.4 L64.5 184.6 L64.8 184.4 L65.0 184.1 L65.3 183.9 L65.5 183.7 L65.8 183.4 L66.0 183.2 L66.3 183.0 L66.5 182.7 L66.8 182.5 L67.0 182.1 L67.3 181.8 L67.6 182.3 L67.8 182.8 L68.1 183.2 L68.3 183.6 L68.6 183.9 L68.8 184.3 L69.1 184.6 L69.3 185.0 L69.6 185.3 L69.8 185.7 L70.1 186.0 L70.4 185.6 L70.6 185.2 L70.9 184.8 L71.1 184.4 L71.4 184.0 L71.6 183.6 L71.9 183.1 L72.2 182.7 L72.4 182.3 L72.7 181.9 L72.9 181.4 L73.2 180.9 L73.4 180.3 L73.7 179.7 L74.0 180.4 L74.2 181.2 L74.5 181.9 L74.8 182.5 L75.0 183.1 L75.3 183.6 L75.5 184.1 L75.8 184.7 L76.1 185.2 L76.3 185.7 L76.6 186.2 L76.9 186.7 L77.1 187.3 L77.4 187.8 L77.6 188.3 L77.9 188.8 L78.2 188.0 L78.4 187.1 L78.7 186.3 L79.0 185.5 L79.2 184.6 L79.5 183.8 L79.7 182.9 L80.0 182.1 L80.3 181.2 L80.5 180.4 L80.8 179.5 L81.0 178.6 L81.3 177.6 L81.6 176.4 L81.8 175.2 L82.1 174.0 L82.4 175.9 L82.6 178.0 L82.9 179.7 L83.1 181.3 L83.4 182.7 L83.6 184.2 L83.9 185.6 L84.2 187.0 L84.4 188.3 L84.7 189.7 L84.9 191.1 L85.2 192.5 L85.4 193.8 L85.7 195.2 L86.0 193.6 L86.2 192.0 L86.5 190.5 L86.7 188.9 L87.0 187.3 L87.2 185.7 L87.5 184.1 L87.8 182.5 L88.0 180.9 L88.3 179.2 L88.5 177.6 L88.8 175.9 L89.1 174.1 L89.3 172.2 L89.6 170.2 L89.8 167.9 L90.1 165.1 L90.3 161.8 L90.6 159.2 L90.9 161.7 L91.1 165.0 L91.4 167.7 L91.6 170.0 L91.9 172.0 L92.1 173.8 L92.4 175.5 L92.7 177.2 L92.9 178.8 L93.2 180.4 L93.4 182.0 L93.7 183.6 L94.0 185.2 L94.2 186.7 L94.5 188.3 L94.7 189.8 L95.0 191.4 L95.2 193.0 L95.5 194.5 L95.8 193.1 L96.0 191.8 L96.3 190.4 L96.5 189.1 L96.8 187.7 L97.0 186.3 L97.3 185.0 L97.6 183.6 L97.8 182.2 L98.1 180.7 L98.3 179.3 L98.6 177.8 L98.8 176.3 L99.1 174.7 L99.4 173.0 L99.6 171.2 L99.9 169.0 L100.1 166.4 L100.4 163.0 L100.6 159.1 L100.9 156.4 L101.2 158.7 L101.4 162.5 L101.7 166.0 L101.9 168.7 L102.2 170.8 L102.4 172.5 L102.7 174.0 L102.9 175.3 L103.2 176.5 L103.4 177.7 L103.7 178.7 L103.9 179.8 L104.2 180.8 L104.4 181.8 L104.7 182.8 L104.9 183.7 L105.2 184.7 L105.4 185.7 L105.7 186.6 L105.9 187.6 L106.2 188.5 L106.4 189.4 L106.7 190.4 L106.9 191.3 L107.2 190.0 L107.4 188.7 L107.7 187.4 L107.9 186.1 L108.2 184.7 L108.4 183.4 L108.7 182.1 L109.0 180.7 L109.2 179.4 L109.5 178.0 L109.7 176.6 L110.0 175.2 L110.2 173.7 L110.5 172.2 L110.7 170.6 L111.0 168.8 L111.3 166.9 L111.5 164.7 L111.8 161.9 L112.0 158.4 L112.3 154.0 L112.5 149.0 L112.8 145.8 L113.0 147.8 L113.3 151.7 L113.5 156.0 L113.8 160.0 L114.0 163.2 L114.3 165.9 L114.5 167.9 L114.8 169.7 L115.0 171.1 L115.3 172.4 L115.5 173.5 L115.8 174.5 L116.0 175.4 L116.3 176.2 L116.5 177.0 L116.8 177.8 L117.0 178.5 L117.3 179.2 L117.5 179.9 L117.8 180.6 L118.0 181.3 L118.3 181.9 L118.5 182.6 L118.8 183.2 L119.0 183.8 L119.3 184.5 L119.5 185.1 L119.8 185.7 L120.0 186.3 L120.3 186.9 L120.5 187.5 L120.8 188.1 L121.0 188.7 L121.3 189.3 L121.6 188.6 L121.8 188.0 L122.1 187.3 L122.3 186.6 L122.6 186.0 L122.8 185.3 L123.1 184.6 L123.3 183.9 L123.6 183.2 L123.9 182.5 L124.1 181.8 L124.4 181.1 L124.6 180.4 L124.9 179.6 L125.1 178.9 L125.4 178.1 L125.7 177.3 L125.9 176.5 L126.2 175.7 L126.4 174.8 L126.7 173.8 L126.9 172.8 L127.2 171.7 L127.4 170.5 L127.7 169.1 L128.0 167.5 L128.2 165.5 L128.5 163.2 L128.7 160.3 L129.0 156.7 L129.2 152.3 L129.5 147.4 L129.7 143.1 L130.0 140.9 L130.2 142.7 L130.5 146.5 L130.8 151.0 L131.0 155.2 L131.2 158.9 L131.5 161.9 L131.8 164.3 L132.0 166.4 L132.2 168.1 L132.5 169.6 L132.8 170.9 L133.0 172.0 L133.2 173.0 L133.5 174.0 L133.8 174.9 L134.0 175.8 L134.2 176.6 L134.5 177.3 L134.8 178.1 L135.0 178.8 L135.2 179.5 L135.5 180.2 L135.8 180.9 L136.0 181.5 L136.2 182.2 L136.5 182.8 L136.8 183.5 L137.0 184.1 L137.2 184.8 L137.5 185.4 L137.8 186.0 L138.0 186.6 L138.2 187.2 L138.5 187.9 L138.8 188.5 L139.0 189.1 L139.2 189.7 L139.5 190.3 L139.8 189.8 L140.0 189.3 L140.3 188.8 L140.5 188.3 L140.8 187.8 L141.0 187.3 L141.3 186.8 L141.5 186.3 L141.8 185.8 L142.0 185.3 L142.3 184.7 L142.5 184.2 L142.8 183.7 L143.1 183.1 L143.3 182.6 L143.6 182.0 L143.8 181.5 L144.1 180.9 L144.3 180.3 L144.6 179.7 L144.8 179.1 L145.1 178.5 L145.3 177.8 L145.6 177.1 L145.8 176.3 L146.1 175.5 L146.4 174.6 L146.6 173.7 L146.9 172.6 L147.1 171.3 L147.4 169.9 L147.6 168.2 L147.9 166.1 L148.1 163.5 L148.4 160.5 L148.6 157.0 L148.9 153.3 L149.1 150.3 L149.4 148.8 L149.7 149.6 L149.9 151.4 L150.2 153.7 L150.4 156.2 L150.7 158.7 L150.9 161.1 L151.2 163.2 L151.4 165.0 L151.7 166.6 L151.9 167.9 L152.2 169.2 L152.4 170.2 L152.7 171.2 L152.9 172.0 L153.2 172.8 L153.4 173.5 L153.7 174.2 L153.9 174.8 L154.2 175.4 L154.4 175.9 L154.7 176.5 L154.9 177.0 L155.2 177.4 L155.4 177.9 L155.7 178.4 L155.9 178.8 L156.2 179.2 L156.4 179.6 L156.7 180.0 L156.9 180.4 L157.2 180.8 L157.4 181.2 L157.7 181.6 L157.9 182.0 L158.2 182.4 L158.4 182.8 L158.7 183.1 L158.9 183.5 L159.2 183.9 L159.4 184.2 L159.7 184.6 L159.9 184.9 L160.2 185.3 L160.4 185.7 L160.7 186.0 L160.9 186.4 L161.2 186.7 L161.4 187.1 L161.7 187.4 L161.9 187.8 L162.2 188.1 L162.4 188.5 L162.7 188.8 L162.9 189.2 L163.2 189.5 L163.5 189.0 L163.7 188.6 L164.0 188.1 L164.2 187.6 L164.5 187.2 L164.7 186.7 L165.0 186.2 L165.2 185.8 L165.5 185.3 L165.7 184.8 L166.0 184.3 L166.2 183.8 L166.5 183.3 L166.7 182.8 L167.0 182.3 L167.2 181.8 L167.5 181.3 L167.7 180.7 L168.0 180.2 L168.2 179.6 L168.5 179.1 L168.7 178.5 L169.0 177.9 L169.2 177.3 L169.5 176.7 L169.8 176.1 L170.0 175.4 L170.3 174.7 L170.5 174.0 L170.8 173.2 L171.0 172.5 L171.3 171.6 L171.5 170.7 L171.8 169.8 L172.0 168.8 L172.3 167.7 L172.5 166.5 L172.8 165.2 L173.0 163.7 L173.3 162.1 L173.5 160.4 L173.8 158.4 L174.0 156.2 L174.3 153.8 L174.5 151.1 L174.8 148.2 L175.0 145.1 L175.3 142.0 L175.5 139.1 L175.8 136.6 L176.0 134.8 L176.3 133.9 L176.6 134.4 L176.8 135.4 L177.1 136.7 L177.3 138.3 L177.6 140.2 L177.8 142.2 L178.1 144.3 L178.3 146.4 L178.6 148.5 L178.8 150.4 L179.1 152.3 L179.3 154.1 L179.6 155.8 L179.8 157.3 L180.1 158.8 L180.3 160.1 L180.6 161.3 L180.8 162.5 L181.1 163.6 L181.3 164.6 L181.6 165.5 L181.8 166.4 L182.1 167.2 L182.3 168.0 L182.6 168.8 L182.8 169.5 L183.1 170.1 L183.3 170.8 L183.6 171.4 L183.8 172.0 L184.1 172.5 L184.3 173.1 L184.6 173.6 L184.8 174.1 L185.1 174.6 L185.3 175.1 L185.6 175.5 L185.8 176.0 L186.1 176.4 L186.3 176.9 L186.6 177.3 L186.8 177.7 L187.1 178.1 L187.3 178.5 L187.6 178.9 L187.8 179.3 L188.1 179.7 L188.3 180.0 L188.6 180.4 L188.8 180.8 L189.1 181.1 L189.3 181.5 L189.6 181.8 L189.8 182.2 L190.1 182.5 L190.3 182.9 L190.6 183.2 L190.8 183.6 L191.1 183.9 L191.3 184.2 L191.6 184.6 L191.8 184.9 L192.1 185.2 L192.3 185.6 L192.6 185.9 L192.8 186.2 L193.1 186.5 L193.3 186.9 L193.6 187.2 L193.8 187.5 L194.1 187.8 L194.3 188.1 L194.6 188.4 L194.8 188.8 L195.1 189.1 L195.3 189.4 L195.6 189.7 L195.9 189.5 L196.1 189.3 L196.4 189.1 L196.6 188.8 L196.9 188.6 L197.1 188.4 L197.4 188.2 L197.6 187.9 L197.9 187.7 L198.1 187.5 L198.4 187.3 L198.6 187.0 L198.9 186.8 L199.1 186.5 L199.4 186.3 L199.6 186.1 L199.9 185.8 L200.1 185.6 L200.4 185.3 L200.7 185.0 L200.9 184.8 L201.2 184.5 L201.4 184.2 L201.7 184.0 L201.9 183.7 L202.2 183.4 L202.4 183.1 L202.7 182.8 L202.9 182.5 L203.2 182.2 L203.4 181.9 L203.7 181.6 L203.9 181.3 L204.2 180.9 L204.4 180.6 L204.7 180.2 L204.9 179.8 L205.2 179.5 L205.4 179.1 L205.7 178.7 L206.0 178.3 L206.2 177.8 L206.5 177.4 L206.7 176.9 L207.0 176.4 L207.2 175.9 L207.5 175.4 L207.7 174.9 L208.0 174.3 L208.2 173.7 L208.5 173.1 L208.7 172.4 L209.0 171.7 L209.2 171.0 L209.5 170.2 L209.7 169.4 L210.0 168.6 L210.2 167.7 L210.5 166.7 L210.8 165.7 L211.0 164.7 L211.3 163.6 L211.5 162.4 L211.8 161.2 L212.0 159.9 L212.3 158.6 L212.5 157.2 L212.8 155.8 L213.0 154.4 L213.3 153.0 L213.5 151.5 L213.8 150.1 L214.0 148.7 L214.3 147.4 L214.5 146.2 L214.8 145.2 L215.0 144.3 L215.3 143.6 L215.5 143.1 L215.8 142.8 L216.1 143.0 L216.3 143.4 L216.6 144.0 L216.8 144.6 L217.1 145.4 L217.3 146.4 L217.6 147.4 L217.8 148.5 L218.1 149.6 L218.3 150.8 L218.6 152.1 L218.8 153.3 L219.1 154.6 L219.3 155.8 L219.6 157.0 L219.8 158.2 L220.1 159.4 L220.3 160.5 L220.6 161.6 L220.8 162.7 L221.1 163.7 L221.3 164.7 L221.6 165.6 L221.8 166.5 L222.1 167.4 L222.3 168.2 L222.6 169.0 L222.8 169.7 L223.1 170.5 L223.3 171.1 L223.6 171.8 L223.8 172.4 L224.1 173.1 L224.3 173.6 L224.6 174.2 L224.8 174.7 L225.1 175.3 L225.3 175.8 L225.6 176.2 L225.8 176.7 L226.1 177.1 L226.3 177.6 L226.6 178.0 L226.8 178.4 L227.1 178.8 L227.3 179.2 L227.6 179.5 L227.8 179.9 L228.1 180.2 L228.3 180.6 L228.6 180.9 L228.8 181.2 L229.1 181.5 L229.3 181.9 L229.6 182.2 L229.8 182.4 L230.1 182.7 L230.3 183.0 L230.6 183.3 L230.8 183.6 L231.1 183.8 L231.3 184.1 L231.6 184.3 L231.8 184.6 L232.1 184.8 L232.3 185.1 L232.6 185.3 L232.8 185.6 L233.1 185.8 L233.3 186.0 L233.6 186.3 L233.8 186.5 L234.1 186.7 L234.3 186.9 L234.6 187.1 L234.8 187.4 L235.1 187.6 L235.3 187.8 L235.6 188.0 L235.8 188.2 L236.1 188.4 L236.3 188.6 L236.6 188.8 L236.8 189.0 L237.1 189.2 L237.3 189.4 L237.6 189.6 L237.8 189.8 L238.1 190.0 L238.3 190.2 L238.6 190.4 L238.8 190.6 L239.1 190.7 L239.3 190.9 L239.6 191.1 L239.8 191.3 L240.1 191.3 L240.3 191.2 L240.6 191.1 L240.8 190.9 L241.1 190.8 L241.4 190.5 L241.6 190.3 L241.9 190.0 L242.1 189.7 L242.4 189.3 L242.6 189.0 L242.9 188.7 L243.2 188.3 L243.4 188.0 L243.7 187.6 L243.9 187.3 L244.2 187.0 L244.4 186.8 L244.7 186.5 L245.0 186.4 L245.2 186.2 L245.5 186.1 L245.7 186.0 L246.0 186.0" fill="none" stroke="#0c7c0c" stroke-width="2.3" stroke-linejoin="round" clip-path="url(#c2)"/>

<g fill="#fff" stroke="#f06a6a" stroke-width="0.9"><rect x="59.7" y="87.0" width="3.2" height="3.2"/><rect x="63.2" y="63.8" width="3.2" height="3.2"/><rect x="67.2" y="90.9" width="3.2" height="3.2"/><rect x="70.6" y="54.2" width="3.2" height="3.2"/><rect x="75.2" y="90.2" width="3.2" height="3.2"/><rect x="88.5" y="36.6" width="3.2" height="3.2"/><rect x="100.6" y="32.6" width="3.2" height="3.2"/><rect x="135.0" y="24.8" width="3.2" height="3.2"/></g>
<g fill="#fff" stroke="#6fb46f" stroke-width="0.8"><circle cx="149.5" cy="136.2" r="1.7"/><circle cx="149.5" cy="139.6" r="1.7"/><circle cx="149.6" cy="143.0" r="1.7"/><circle cx="149.7" cy="146.3" r="1.7"/><circle cx="284.3" cy="134.6" r="1.7"/></g>
<g fill="none" stroke="#cf9ed8" stroke-width="0.85" clip-path="url(#c3)"><circle cx="56.5" cy="279.5" r="2.0"/><circle cx="58.5" cy="278.9" r="2.0"/><circle cx="60.2" cy="278.0" r="2.0"/><circle cx="62.3" cy="277.5" r="2.0"/><circle cx="64.3" cy="277.2" r="2.0"/><circle cx="66.3" cy="276.7" r="2.0"/><circle cx="68.3" cy="276.3" r="2.0"/><circle cx="70.3" cy="276.3" r="2.0"/><circle cx="72.4" cy="276.8" r="2.0"/><circle cx="74.1" cy="277.6" r="2.0"/><circle cx="75.9" cy="278.5" r="2.0"/><circle cx="77.7" cy="279.1" r="2.0"/><circle cx="79.7" cy="279.5" r="2.0"/><circle cx="81.8" cy="279.7" r="2.0"/><circle cx="83.8" cy="280.5" r="2.0"/><circle cx="85.5" cy="281.5" r="2.0"/><circle cx="87.2" cy="282.5" r="2.0"/><circle cx="89.2" cy="283.3" r="2.0"/><circle cx="91.2" cy="283.5" r="2.0"/><circle cx="93.0" cy="284.9" r="2.0"/><circle cx="94.5" cy="286.4" r="2.0"/><circle cx="96.3" cy="286.3" r="2.0"/><circle cx="97.3" cy="284.7" r="2.0"/><circle cx="98.8" cy="284.1" r="2.0"/><circle cx="99.9" cy="286.0" r="2.0"/><circle cx="100.7" cy="287.9" r="2.0"/><circle cx="102.0" cy="289.5" r="2.0"/><circle cx="103.2" cy="287.9" r="2.0"/><circle cx="104.5" cy="285.9" r="2.0"/><circle cx="105.5" cy="283.8" r="2.0"/><circle cx="106.5" cy="282.0" r="2.0"/><circle cx="107.2" cy="284.2" r="2.0"/><circle cx="107.8" cy="286.3" r="2.0"/><circle cx="108.2" cy="288.3" r="2.0"/><circle cx="109.0" cy="290.9" r="2.0"/><circle cx="109.8" cy="293.0" r="2.0"/><circle cx="110.5" cy="294.9" r="2.0"/><circle cx="111.5" cy="297.2" r="2.0"/><circle cx="112.2" cy="294.8" r="2.0"/><circle cx="113.0" cy="292.2" r="2.0"/><circle cx="113.5" cy="290.3" r="2.0"/><circle cx="114.0" cy="288.1" r="2.0"/><circle cx="114.5" cy="285.6" r="2.0"/><circle cx="115.0" cy="282.7" r="2.0"/><circle cx="115.5" cy="279.6" r="2.0"/><circle cx="116.0" cy="276.7" r="2.0"/><circle cx="116.5" cy="274.8" r="2.0"/><circle cx="117.3" cy="277.6" r="2.0"/><circle cx="117.8" cy="280.3" r="2.0"/><circle cx="118.3" cy="283.1" r="2.0"/><circle cx="118.8" cy="285.6" r="2.0"/><circle cx="119.3" cy="287.9" r="2.0"/><circle cx="119.8" cy="289.9" r="2.0"/><circle cx="120.5" cy="292.6" r="2.0"/><circle cx="121.3" cy="295.0" r="2.0"/><circle cx="122.0" cy="297.1" r="2.0"/><circle cx="122.8" cy="296.1" r="2.0"/><circle cx="123.5" cy="293.5" r="2.0"/><circle cx="124.0" cy="291.6" r="2.0"/><circle cx="124.5" cy="289.4" r="2.0"/><circle cx="125.0" cy="287.1" r="2.0"/><circle cx="125.5" cy="284.4" r="2.0"/><circle cx="126.0" cy="281.4" r="2.0"/><circle cx="126.5" cy="278.1" r="2.0"/><circle cx="127.0" cy="274.8" r="2.0"/><circle cx="127.5" cy="272.2" r="2.0"/><circle cx="128.3" cy="272.6" r="2.0"/><circle cx="129.1" cy="275.2" r="2.0"/><circle cx="129.6" cy="277.3" r="2.0"/><circle cx="130.1" cy="279.5" r="2.0"/><circle cx="130.6" cy="281.6" r="2.0"/><circle cx="131.1" cy="283.6" r="2.0"/><circle cx="131.6" cy="285.5" r="2.0"/><circle cx="132.4" cy="288.0" r="2.0"/><circle cx="133.2" cy="290.2" r="2.0"/><circle cx="133.9" cy="292.2" r="2.0"/><circle cx="134.7" cy="294.1" r="2.0"/><circle cx="135.7" cy="296.4" r="2.0"/><circle cx="136.8" cy="297.1" r="2.0"/><circle cx="137.5" cy="294.5" r="2.0"/><circle cx="138.0" cy="292.5" r="2.0"/><circle cx="138.5" cy="290.4" r="2.0"/><circle cx="139.0" cy="288.1" r="2.0"/><circle cx="139.5" cy="285.5" r="2.0"/><circle cx="140.0" cy="282.5" r="2.0"/><circle cx="140.5" cy="279.2" r="2.0"/><circle cx="141.0" cy="275.7" r="2.0"/><circle cx="141.5" cy="272.6" r="2.0"/><circle cx="142.0" cy="270.5" r="2.0"/><circle cx="143.0" cy="272.3" r="2.0"/><circle cx="143.8" cy="274.4" r="2.0"/><circle cx="144.5" cy="276.6" r="2.0"/><circle cx="145.2" cy="278.8" r="2.0"/><circle cx="146.0" cy="280.8" r="2.0"/><circle cx="146.8" cy="282.7" r="2.0"/><circle cx="147.8" cy="284.9" r="2.0"/><circle cx="148.8" cy="286.8" r="2.0"/><circle cx="149.8" cy="288.5" r="2.0"/><circle cx="151.0" cy="290.5" r="2.0"/><circle cx="152.2" cy="291.6" r="2.0"/><circle cx="153.2" cy="289.7" r="2.0"/><circle cx="154.2" cy="287.6" r="2.0"/><circle cx="155.2" cy="285.3" r="2.0"/><circle cx="156.0" cy="283.1" r="2.0"/><circle cx="156.8" cy="280.3" r="2.0"/><circle cx="157.2" cy="277.7" r="2.0"/><circle cx="157.8" cy="274.3" r="2.0"/><circle cx="158.0" cy="272.2" r="2.0"/><circle cx="158.2" cy="269.7" r="2.0"/><circle cx="158.5" cy="267.0" r="2.0"/><circle cx="158.8" cy="264.2" r="2.0"/><circle cx="159.0" cy="261.5" r="2.0"/><circle cx="159.2" cy="259.5" r="2.0"/><circle cx="160.0" cy="259.6" r="2.0"/><circle cx="160.5" cy="261.7" r="2.0"/><circle cx="161.0" cy="264.4" r="2.0"/><circle cx="161.5" cy="267.1" r="2.0"/><circle cx="162.0" cy="269.6" r="2.0"/><circle cx="162.5" cy="271.8" r="2.0"/><circle cx="163.3" cy="274.4" r="2.0"/><circle cx="164.0" cy="276.5" r="2.0"/><circle cx="165.0" cy="278.6" r="2.0"/><circle cx="166.0" cy="280.3" r="2.0"/><circle cx="167.3" cy="282.0" r="2.0"/><circle cx="168.5" cy="283.4" r="2.0"/><circle cx="170.0" cy="285.0" r="2.0"/><circle cx="171.5" cy="286.4" r="2.0"/><circle cx="173.1" cy="287.2" r="2.0"/><circle cx="174.3" cy="285.5" r="2.0"/><circle cx="175.6" cy="283.8" r="2.0"/><circle cx="176.9" cy="282.0" r="2.0"/><circle cx="178.1" cy="280.1" r="2.0"/><circle cx="179.4" cy="278.1" r="2.0"/><circle cx="180.4" cy="276.3" r="2.0"/><circle cx="181.4" cy="274.2" r="2.0"/><circle cx="182.2" cy="272.3" r="2.0"/><circle cx="182.9" cy="269.9" r="2.0"/><circle cx="183.5" cy="268.0" r="2.0"/><circle cx="184.0" cy="265.6" r="2.0"/><circle cx="184.5" cy="262.6" r="2.0"/><circle cx="185.0" cy="259.0" r="2.0"/><circle cx="185.2" cy="257.0" r="2.0"/><circle cx="185.5" cy="255.0" r="2.0"/><circle cx="185.7" cy="253.0" r="2.0"/><circle cx="186.2" cy="250.1" r="2.0"/><circle cx="187.0" cy="251.1" r="2.0"/><circle cx="187.5" cy="254.3" r="2.0"/><circle cx="188.0" cy="258.1" r="2.0"/><circle cx="188.5" cy="261.7" r="2.0"/><circle cx="189.0" cy="264.8" r="2.0"/><circle cx="189.5" cy="267.5" r="2.0"/><circle cx="190.0" cy="269.7" r="2.0"/><circle cx="190.8" cy="272.3" r="2.0"/><circle cx="191.5" cy="274.4" r="2.0"/><circle cx="192.2" cy="276.2" r="2.0"/><circle cx="193.2" cy="278.1" r="2.0"/><circle cx="194.2" cy="279.9" r="2.0"/><circle cx="195.5" cy="281.8" r="2.0"/><circle cx="196.8" cy="283.6" r="2.0"/><circle cx="198.0" cy="285.3" r="2.0"/><circle cx="199.2" cy="287.0" r="2.0"/><circle cx="200.5" cy="288.6" r="2.0"/><circle cx="201.8" cy="290.2" r="2.0"/><circle cx="203.0" cy="289.0" r="2.0"/><circle cx="204.2" cy="287.1" r="2.0"/><circle cx="205.5" cy="285.1" r="2.0"/><circle cx="206.5" cy="283.5" r="2.0"/><circle cx="207.5" cy="281.8" r="2.0"/><circle cx="208.5" cy="280.0" r="2.0"/><circle cx="209.5" cy="278.0" r="2.0"/><circle cx="210.5" cy="275.6" r="2.0"/><circle cx="211.2" cy="273.5" r="2.0"/><circle cx="212.0" cy="270.9" r="2.0"/><circle cx="212.5" cy="268.7" r="2.0"/><circle cx="213.0" cy="266.0" r="2.0"/><circle cx="213.5" cy="262.6" r="2.0"/><circle cx="213.8" cy="260.7" r="2.0"/><circle cx="214.0" cy="258.6" r="2.0"/><circle cx="214.2" cy="256.4" r="2.0"/><circle cx="214.5" cy="254.1" r="2.0"/><circle cx="214.8" cy="251.9" r="2.0"/><circle cx="215.2" cy="248.7" r="2.0"/><circle cx="216.2" cy="249.4" r="2.0"/><circle cx="217.0" cy="252.3" r="2.0"/><circle cx="217.5" cy="254.5" r="2.0"/><circle cx="218.0" cy="256.8" r="2.0"/><circle cx="218.5" cy="259.1" r="2.0"/><circle cx="219.0" cy="261.1" r="2.0"/><circle cx="219.5" cy="262.9" r="2.0"/><circle cx="220.2" cy="265.3" r="2.0"/><circle cx="221.0" cy="267.3" r="2.0"/><circle cx="222.0" cy="269.5" r="2.0"/><circle cx="223.0" cy="271.4" r="2.0"/><circle cx="224.2" cy="273.2" r="2.0"/><circle cx="225.5" cy="274.8" r="2.0"/><circle cx="227.0" cy="276.5" r="2.0"/><circle cx="228.5" cy="278.0" r="2.0"/><circle cx="230.0" cy="279.4" r="2.0"/><circle cx="231.5" cy="280.7" r="2.0"/><circle cx="233.0" cy="282.0" r="2.0"/><circle cx="234.5" cy="283.2" r="2.0"/><circle cx="236.0" cy="284.4" r="2.0"/><circle cx="237.5" cy="285.6" r="2.0"/><circle cx="239.2" cy="286.9" r="2.0"/><circle cx="241.0" cy="287.1" r="2.0"/><circle cx="242.5" cy="285.4" r="2.0"/><circle cx="244.0" cy="284.1" r="2.0"/></g>

<path d="M56.5 282.3 L56.8 282.3 L57.0 282.4 L57.3 282.5 L57.6 282.6 L57.8 282.8 L58.1 283.0 L58.4 283.2 L58.6 283.4 L58.9 283.6 L59.1 283.8 L59.4 283.9 L59.7 284.0 L59.9 284.1 L60.2 284.1 L60.5 284.1 L60.7 284.1 L61.0 284.2 L61.2 284.2 L61.5 284.2 L61.8 284.3 L62.0 284.3 L62.3 284.4 L62.6 284.5 L62.8 284.5 L63.1 284.6 L63.4 284.6 L63.6 284.6 L63.9 284.7 L64.1 284.7 L64.4 284.7 L64.7 284.7 L64.9 284.7 L65.2 284.7 L65.4 284.6 L65.7 284.6 L65.9 284.5 L66.2 284.5 L66.4 284.4 L66.7 284.3 L66.9 284.3 L67.2 284.2 L67.5 284.1 L67.7 284.1 L68.0 284.0 L68.2 283.9 L68.5 283.9 L68.7 283.8 L69.0 283.8 L69.2 283.7 L69.5 283.7 L69.7 283.7 L70.0 283.7 L70.2 283.7 L70.5 283.7 L70.8 283.7 L71.0 283.7 L71.2 283.8 L71.5 283.8 L71.8 283.8 L72.0 283.8 L72.2 283.9 L72.5 283.9 L72.8 283.9 L73.0 284.0 L73.2 284.0 L73.5 284.0 L73.8 284.1 L74.0 284.1 L74.2 284.2 L74.5 284.2 L74.8 284.2 L75.0 284.3 L75.2 284.3 L75.5 284.3 L75.8 284.3 L76.0 284.4 L76.2 284.4 L76.5 284.4 L76.8 284.4 L77.0 284.4 L77.2 284.4 L77.5 284.4 L77.8 284.4 L78.0 284.5 L78.2 284.5 L78.5 284.6 L78.8 284.6 L79.0 284.7 L79.2 284.7 L79.5 284.8 L79.8 284.9 L80.0 284.9 L80.2 285.0 L80.5 285.1 L80.8 285.2 L81.0 285.3 L81.2 285.3 L81.5 285.4 L81.8 285.5 L82.0 285.5 L82.2 285.6 L82.5 285.6 L82.8 285.7 L83.0 285.7 L83.2 285.8 L83.5 285.8 L83.8 285.8 L84.0 285.8 L84.3 285.8 L84.5 285.8 L84.8 285.9 L85.0 285.9 L85.3 286.0 L85.5 286.0 L85.8 286.1 L86.0 286.2 L86.3 286.3 L86.5 286.4 L86.8 286.5 L87.1 286.6 L87.3 286.7 L87.6 286.8 L87.8 286.9 L88.1 287.0 L88.3 287.0 L88.6 287.1 L88.8 287.1 L89.1 287.2 L89.3 287.2 L89.6 287.2 L89.9 287.2 L90.1 287.3 L90.4 287.3 L90.7 287.4 L90.9 287.5 L91.2 287.7 L91.4 287.8 L91.7 287.9 L92.0 287.9 L92.2 288.0 L92.5 288.0 L92.8 288.0 L93.0 288.1 L93.2 288.1 L93.5 288.2 L93.8 288.4 L94.0 288.5 L94.2 288.6 L94.5 288.8 L94.8 288.9 L95.0 289.1 L95.2 289.2 L95.5 289.2 L95.8 289.3 L96.0 289.3 L96.2 289.1 L96.5 288.6 L96.8 287.8 L97.0 287.0 L97.2 286.1 L97.5 285.3 L97.8 284.8 L98.0 284.6 L98.2 284.7 L98.5 285.0 L98.8 285.4 L99.0 286.0 L99.2 286.7 L99.5 287.5 L99.8 288.4 L100.0 289.2 L100.2 290.0 L100.5 290.7 L100.8 291.3 L101.0 291.7 L101.2 292.0 L101.5 292.1 L101.8 291.7 L102.0 291.3 L102.3 290.8 L102.5 290.4 L102.8 289.9 L103.1 289.4 L103.3 288.9 L103.6 288.3 L103.9 287.7 L104.1 287.0 L104.4 286.3 L104.7 285.6 L104.9 284.8 L105.2 284.1 L105.4 283.4 L105.7 283.0 L106.0 283.5 L106.2 284.2 L106.5 285.0 L106.7 285.9 L107.0 286.8 L107.2 287.8 L107.5 288.7 L107.7 289.6 L108.0 290.4 L108.2 291.2 L108.5 292.0 L108.8 292.7 L109.0 293.4 L109.3 294.0 L109.5 294.6 L109.8 295.2 L110.0 295.8 L110.3 296.3 L110.5 296.9 L110.8 297.4 L111.0 297.9 L111.3 298.4 L111.6 297.6 L111.8 296.7 L112.1 295.9 L112.3 295.0 L112.6 294.0 L112.8 293.0 L113.1 292.0 L113.4 290.9 L113.6 289.7 L113.9 288.4 L114.1 287.1 L114.4 285.6 L114.7 284.1 L114.9 282.4 L115.2 280.7 L115.4 279.1 L115.7 277.6 L115.9 276.4 L116.2 275.5 L116.5 276.2 L116.7 277.2 L117.0 278.4 L117.2 279.7 L117.5 281.1 L117.7 282.5 L118.0 283.9 L118.2 285.2 L118.5 286.5 L118.7 287.7 L119.0 288.8 L119.2 289.9 L119.5 290.9 L119.7 291.9 L120.0 292.8 L120.2 293.6 L120.5 294.5 L120.7 295.3 L121.0 296.0 L121.2 296.8 L121.5 297.5 L121.7 298.2 L122.0 298.9 L122.2 298.2 L122.5 297.6 L122.8 296.9 L123.0 296.2 L123.2 295.4 L123.5 294.7 L123.8 293.9 L124.0 293.1 L124.2 292.3 L124.5 291.4 L124.8 290.5 L125.0 289.6 L125.2 288.6 L125.5 287.6 L125.8 286.5 L126.0 285.3 L126.2 284.1 L126.5 282.8 L126.8 281.5 L127.0 280.1 L127.2 278.8 L127.5 277.4 L127.8 276.2 L128.0 275.1 L128.2 274.3 L128.5 273.6 L128.8 274.2 L129.0 274.9 L129.3 275.8 L129.5 276.8 L129.8 277.9 L130.0 279.1 L130.3 280.3 L130.5 281.4 L130.8 282.6 L131.0 283.7 L131.3 284.8 L131.5 285.9 L131.8 286.9 L132.0 287.8 L132.3 288.7 L132.6 289.6 L132.8 290.4 L133.1 291.2 L133.3 292.0 L133.6 292.7 L133.8 293.5 L134.1 294.1 L134.3 294.8 L134.6 295.5 L134.8 296.1 L135.1 296.7 L135.3 297.3 L135.6 297.9 L135.8 298.5 L136.1 299.1 L136.4 298.2 L136.6 297.3 L136.9 296.4 L137.1 295.5 L137.4 294.5 L137.6 293.5 L137.9 292.4 L138.2 291.3 L138.4 290.1 L138.7 288.8 L138.9 287.5 L139.2 286.0 L139.4 284.5 L139.7 282.9 L140.0 281.2 L140.2 279.4 L140.5 277.6 L140.7 275.9 L141.0 274.4 L141.2 273.1 L141.5 272.2 L141.8 272.5 L142.0 273.0 L142.3 273.5 L142.5 274.1 L142.8 274.7 L143.0 275.4 L143.3 276.1 L143.5 276.9 L143.8 277.6 L144.0 278.4 L144.3 279.1 L144.5 279.9 L144.8 280.6 L145.0 281.3 L145.3 282.0 L145.5 282.7 L145.8 283.3 L146.0 284.0 L146.3 284.6 L146.6 285.1 L146.8 285.7 L147.1 286.2 L147.3 286.8 L147.6 287.3 L147.8 287.8 L148.1 288.2 L148.3 288.7 L148.6 289.2 L148.8 289.6 L149.1 290.1 L149.3 290.5 L149.6 290.9 L149.8 291.3 L150.1 291.7 L150.3 292.1 L150.6 292.5 L150.8 292.9 L151.1 293.3 L151.3 293.6 L151.6 294.0 L151.9 293.5 L152.1 293.1 L152.4 292.6 L152.6 292.1 L152.9 291.6 L153.1 291.2 L153.4 290.6 L153.7 290.1 L153.9 289.6 L154.2 289.0 L154.4 288.4 L154.7 287.8 L154.9 287.2 L155.2 286.5 L155.4 285.8 L155.7 285.0 L156.0 284.1 L156.2 283.1 L156.5 282.1 L156.7 280.9 L157.0 279.5 L157.2 277.9 L157.5 276.0 L157.8 273.9 L158.0 271.4 L158.3 268.7 L158.5 265.8 L158.8 263.1 L159.0 261.0 L159.3 260.0 L159.6 260.3 L159.8 261.0 L160.1 261.9 L160.3 263.0 L160.6 264.3 L160.8 265.6 L161.1 266.9 L161.3 268.3 L161.6 269.5 L161.8 270.7 L162.1 271.8 L162.3 272.9 L162.6 273.8 L162.8 274.7 L163.1 275.5 L163.3 276.3 L163.6 277.0 L163.8 277.6 L164.1 278.2 L164.4 278.7 L164.6 279.3 L164.9 279.7 L165.1 280.2 L165.4 280.6 L165.6 281.0 L165.9 281.4 L166.1 281.8 L166.4 282.2 L166.6 282.5 L166.9 282.8 L167.1 283.1 L167.4 283.4 L167.6 283.7 L167.9 284.0 L168.1 284.3 L168.4 284.6 L168.7 284.8 L168.9 285.1 L169.2 285.4 L169.4 285.6 L169.7 285.9 L169.9 286.1 L170.2 286.3 L170.4 286.6 L170.7 286.8 L170.9 287.0 L171.2 287.3 L171.4 287.5 L171.7 287.7 L171.9 287.9 L172.2 288.1 L172.4 288.4 L172.7 288.6 L172.9 288.8 L173.2 289.0 L173.5 288.6 L173.7 288.3 L174.0 287.9 L174.2 287.6 L174.5 287.2 L174.7 286.9 L175.0 286.5 L175.2 286.1 L175.5 285.8 L175.7 285.4 L176.0 285.0 L176.2 284.7 L176.5 284.3 L176.7 283.9 L177.0 283.5 L177.2 283.1 L177.5 282.8 L177.7 282.4 L178.0 282.0 L178.2 281.6 L178.5 281.2 L178.7 280.7 L179.0 280.3 L179.2 279.9 L179.5 279.4 L179.8 279.0 L180.0 278.5 L180.3 278.0 L180.5 277.5 L180.8 277.0 L181.0 276.5 L181.3 275.9 L181.5 275.3 L181.8 274.7 L182.0 274.0 L182.3 273.2 L182.5 272.5 L182.8 271.6 L183.0 270.7 L183.3 269.6 L183.5 268.5 L183.8 267.2 L184.0 265.7 L184.3 264.1 L184.5 262.4 L184.8 260.4 L185.0 258.3 L185.3 256.2 L185.5 254.1 L185.8 252.3 L186.0 251.0 L186.3 250.3 L186.6 250.8 L186.8 251.7 L187.1 252.9 L187.3 254.4 L187.6 256.0 L187.8 257.8 L188.1 259.5 L188.3 261.2 L188.6 262.8 L188.8 264.3 L189.1 265.7 L189.3 267.0 L189.6 268.2 L189.8 269.3 L190.1 270.3 L190.3 271.2 L190.6 272.1 L190.8 272.9 L191.1 273.6 L191.3 274.3 L191.6 275.0 L191.8 275.6 L192.1 276.2 L192.3 276.7 L192.6 277.3 L192.8 277.8 L193.1 278.2 L193.3 278.7 L193.6 279.1 L193.8 279.6 L194.1 280.0 L194.3 280.4 L194.6 280.8 L194.8 281.2 L195.1 281.6 L195.4 281.9 L195.6 282.3 L195.9 282.7 L196.1 283.0 L196.4 283.4 L196.6 283.7 L196.9 284.0 L197.1 284.4 L197.4 284.7 L197.6 285.0 L197.9 285.3 L198.1 285.7 L198.4 286.0 L198.6 286.3 L198.9 286.6 L199.1 286.9 L199.4 287.2 L199.6 287.5 L199.9 287.8 L200.1 288.1 L200.4 288.4 L200.6 288.7 L200.9 289.0 L201.1 289.3 L201.4 289.6 L201.6 289.9 L201.9 290.2 L202.1 290.5 L202.4 290.8 L202.6 291.1 L202.9 291.4 L203.1 291.6 L203.4 291.9 L203.6 292.2 L203.9 292.5 L204.2 292.3 L204.4 292.2 L204.7 292.0 L204.9 291.9 L205.2 291.7 L205.4 291.5 L205.7 291.3 L205.9 291.2 L206.2 291.0 L206.4 290.8 L206.7 290.6 L206.9 290.4 L207.2 290.2 L207.4 290.0 L207.7 289.8 L207.9 289.6 L208.2 289.4 L208.4 289.2 L208.7 289.0 L208.9 288.7 L209.2 288.5 L209.4 288.3 L209.7 288.0 L209.9 287.7 L210.2 287.5 L210.4 287.2 L210.7 286.9 L210.9 286.6 L211.2 286.3 L211.4 285.9 L211.7 285.6 L211.9 285.2 L212.2 284.8 L212.4 284.4 L212.7 284.0 L212.9 283.5 L213.2 283.1 L213.4 282.6 L213.7 282.1 L213.9 281.5 L214.2 280.9 L214.4 280.3 L214.7 279.7 L214.9 279.1 L215.2 278.4 L215.4 277.7 L215.7 277.0 L215.9 276.3 L216.2 275.5 L216.4 274.8 L216.7 274.1 L216.9 273.4 L217.2 272.7 L217.4 272.1 L217.7 271.6 L217.9 271.1 L218.2 270.7 L218.4 270.5 L218.7 270.3 L219.0 270.4 L219.2 270.6 L219.5 270.8 L219.7 271.1 L220.0 271.5 L220.2 271.9 L220.5 272.3 L220.7 272.8 L221.0 273.3 L221.2 273.8 L221.5 274.3 L221.7 274.9 L222.0 275.5 L222.2 276.0 L222.5 276.6 L222.7 277.2 L223.0 277.7 L223.2 278.3 L223.5 278.8 L223.8 279.3 L224.0 279.8 L224.3 280.3 L224.5 280.8 L224.8 281.3 L225.0 281.7 L225.3 282.2 L225.5 282.6 L225.8 283.0 L226.0 283.4 L226.3 283.8 L226.5 284.1 L226.8 284.5 L227.0 284.8 L227.3 285.1 L227.5 285.5 L227.8 285.8 L228.0 286.0 L228.3 286.3 L228.5 286.6 L228.8 286.9 L229.1 287.1 L229.3 287.4 L229.6 287.6 L229.8 287.8 L230.1 288.1 L230.3 288.3 L230.6 288.5 L230.8 288.7 L231.1 288.9 L231.3 289.1 L231.6 289.3 L231.8 289.5 L232.1 289.7 L232.3 289.9 L232.6 290.0 L232.8 290.2 L233.1 290.4 L233.3 290.5 L233.6 290.7 L233.8 290.9 L234.1 291.0 L234.4 291.2 L234.6 291.3 L234.9 291.5 L235.1 291.6 L235.4 291.8 L235.6 291.9 L235.9 292.1 L236.1 292.2 L236.4 292.3 L236.6 292.5 L236.9 292.6 L237.1 292.7 L237.4 292.9 L237.6 293.0 L237.9 293.1 L238.1 293.2 L238.4 293.4 L238.6 293.5 L238.9 293.6 L239.2 293.6 L239.4 293.5 L239.7 293.4 L239.9 293.2 L240.2 293.0 L240.4 292.8 L240.7 292.5 L240.9 292.3 L241.2 291.9 L241.4 291.6 L241.7 291.3 L242.0 291.0 L242.2 290.7 L242.5 290.3 L242.7 290.1 L243.0 289.8 L243.2 289.6 L243.5 289.4 L243.7 289.2 L244.0 289.1 L244.2 289.0 L244.5 289.0" fill="none" stroke="#800080" stroke-width="2.2" clip-path="url(#c3)"/>

<path d="M244.5 66.0 L244.7 66.0 L244.9 65.9 L245.1 65.9 L245.4 65.8 L245.7 65.7 L246.0 65.4 L246.3 64.9 L246.7 64.0 L247.1 63.2 L247.6 62.4 L248.0 62.0 L248.4 62.2 L248.8 63.3 L249.2 65.3 L249.6 67.7 L250.0 69.9 L250.5 71.5 L251.0 72.0 L251.7 70.9 L252.4 68.4 L253.2 65.4 L254.0 62.4 L254.7 60.3 L255.4 59.7 L255.9 61.2 L256.4 64.4 L256.7 68.4 L257.1 72.4 L257.5 75.5 L258.0 76.8 L258.6 76.0 L259.2 73.8 L259.9 70.7 L260.6 67.2 L261.3 64.0 L261.8 61.6 L262.2 60.0 L262.6 58.6 L263.0 57.5 L263.3 56.5 L263.5 55.8 L263.7 55.2 L264.7 31.9 L265.3 79.5 L265.6 78.4 L266.0 77.0 L266.4 75.2 L266.9 73.3 L267.4 71.3 L267.9 69.4 L268.4 67.6 L268.9 65.8 L269.4 63.9 L269.9 61.9 L270.3 59.6 L270.8 57.0 L271.2 53.8 L271.7 50.0 L272.1 46.0 L272.5 42.1 L272.9 38.6 L273.2 36.0 L273.5 34.3 L273.7 33.2 L273.9 32.6 L274.1 32.3 L274.3 32.2 L274.4 31.9 L275.0 80.0 L275.1 80.1 L275.2 80.3 L275.4 80.6 L275.6 80.6 L275.8 80.2 L276.0 79.2 L276.2 77.4 L276.5 74.8 L276.8 71.9 L277.0 68.9 L277.3 66.1 L277.6 64.0 L277.9 62.5 L278.1 61.5 L278.4 60.7 L278.7 60.1 L279.0 59.5 L279.3 58.9 L279.7 58.3 L280.1 57.9 L280.6 57.5 L281.0 57.1 L281.5 56.4 L281.9 55.5 L282.3 54.2 L282.8 52.7 L283.2 51.0 L283.6 49.1 L284.0 47.2 L284.4 45.3 L284.7 43.2 L285.1 40.8 L285.4 38.3 L285.7 36.0 L285.9 34.0 L286.1 32.6 L286.6 80.0 L286.7 80.1 L286.9 80.3 L287.1 80.6 L287.3 80.6 L287.6 80.2 L287.8 79.2 L288.0 77.4 L288.3 74.8 L288.6 71.9 L288.9 68.9 L289.2 66.1 L289.5 64.0 L289.9 62.6 L290.2 61.5 L290.6 60.8 L291.1 60.2 L291.5 59.6 L292.0 58.9 L292.5 58.2 L293.1 57.6 L293.7 57.1 L294.3 56.5 L294.9 55.7 L295.4 54.7 L295.9 53.5 L296.3 52.1 L296.8 50.5 L297.2 48.9 L297.6 47.1 L298.0 45.3 L298.5 43.2 L298.9 40.8 L299.4 38.4 L299.9 36.0 L300.2 34.0 L300.5 32.6 L301.0 80.0 L301.4 79.9 L302.1 79.8 L302.9 79.6 L303.6 79.4 L304.3 79.3 L304.7 79.2 L305.6 58.0 L306.1 57.9 L306.7 57.9 L307.5 57.8 L308.3 57.7 L309.1 57.5 L309.8 57.2 L310.4 56.8 L311.0 56.4 L311.6 55.9 L312.2 55.3 L312.7 54.6 L313.2 53.8 L313.7 52.9 L314.1 52.0 L314.6 50.9 L315.0 49.8 L315.4 48.5 L315.8 47.0 L316.2 45.2 L316.7 43.1 L317.2 40.9 L317.6 38.7 L318.0 36.7 L318.3 35.2 L318.6 34.1 L318.8 33.3 L318.9 32.8 L319.0 32.4 L319.1 32.1 L319.2 31.8 L319.7 80.0 L320.3 79.9 L321.1 79.8 L322.1 79.6 L323.1 79.4 L323.9 79.3 L324.5 79.2 L325.0 58.0 L325.3 57.9 L325.7 57.8 L326.1 57.6 L326.6 57.5 L327.1 57.3 L327.6 57.2 L328.0 57.1 L328.4 57.0 L328.9 56.9 L329.3 56.8 L329.7 56.6 L330.2 56.4 L330.7 56.1 L331.3 55.8 L331.9 55.5 L332.5 55.0 L333.1 54.5 L333.6 53.8 L334.1 52.9 L334.5 51.9 L334.9 50.8 L335.3 49.5 L335.7 48.3 L336.1 47.0 L336.5 45.7 L336.9 44.2 L337.3 42.8 L337.8 41.3 L338.2 39.9 L338.6 38.6 L339.0 37.4 L339.5 36.2 L340.0 35.1 L340.5 34.1 L340.9 33.3 L341.2 32.6 L341.4 32.2 L341.6 31.9 L341.8 31.8 L341.9 31.8 L341.9 31.8 L342.0 31.8 L342.5 80.0 L343.3 79.9 L344.5 79.8 L345.9 79.6 L347.2 79.4 L348.4 79.3 L349.2 79.2 L349.8 59.0 L350.2 58.9 L350.8 58.8 L351.5 58.7 L352.3 58.5 L353.1 58.3 L353.9 58.0 L354.7 57.7 L355.5 57.4 L356.4 57.1 L357.3 56.7 L358.1 56.2 L359.0 55.5 L359.8 54.6 L360.7 53.6 L361.5 52.5 L362.4 51.2 L363.2 50.0 L364.0 48.7 L364.8 47.4 L365.5 46.0 L366.2 44.5 L367.0 43.0 L367.6 41.6 L368.3 40.3 L368.9 39.0 L369.5 37.7 L370.1 36.5 L370.7 35.3 L371.2 34.3 L371.7 33.5 L372.2 32.9 L372.6 32.5 L373.0 32.2 L373.4 32.1 L373.7 31.9 L373.9 31.8 L374.5 80.5 L375.1 80.6 L375.9 80.7 L376.9 80.9 L378.0 81.0 L379.0 81.0 L380.0 81.0 L381.0 80.8 L382.1 80.5 L383.1 80.1 L384.1 79.8 L385.0 79.4 L385.6 79.2 L386.3 58.5 L386.8 58.4 L387.5 58.3 L388.3 58.1 L389.2 57.9 L390.1 57.7 L391.0 57.6 L391.9 57.5 L392.9 57.4 L394.0 57.4 L395.0 57.3 L396.0 57.2 L396.9 57.0 L397.7 56.7 L398.4 56.4 L399.0 56.0 L399.7 55.5 L400.3 55.0 L401.0 54.5 L401.7 54.0 L402.5 53.4 L403.2 52.8 L403.9 52.2 L404.7 51.4 L405.4 50.4 L406.1 49.2 L406.8 47.8 L407.6 46.3 L408.3 44.8 L408.9 43.3 L409.6 41.9 L410.2 40.6 L410.8 39.4 L411.4 38.2 L411.9 37.1 L412.4 36.1 L413.0 35.2 L413.6 34.4 L414.2 33.8 L414.8 33.2 L415.4 32.8 L415.9 32.4 L416.4 32.1 L416.8 31.9 L417.1 31.8 L417.4 31.8 L417.7 31.8 L417.8 31.8 L418.0 31.8 L418.6 80.5 L419.3 80.3 L420.2 80.1 L421.3 79.9 L422.5 79.6 L423.8 79.3 L425.0 79.0 L426.3 78.7 L427.7 78.3 L429.1 77.9 L430.5 77.5 L431.7 77.2 L432.5 77.0" fill="none" stroke="#f59a9a" stroke-width="4.0" stroke-linejoin="round" clip-path="url(#c4)"/>
<path d="M244.5 66.0 L244.7 66.0 L244.9 65.9 L245.1 65.9 L245.4 65.8 L245.7 65.7 L246.0 65.4 L246.3 64.9 L246.7 64.0 L247.1 63.2 L247.6 62.4 L248.0 62.0 L248.4 62.2 L248.8 63.3 L249.2 65.3 L249.6 67.7 L250.0 69.9 L250.5 71.5 L251.0 72.0 L251.7 70.9 L252.4 68.4 L253.2 65.4 L254.0 62.4 L254.7 60.3 L255.4 59.7 L255.9 61.2 L256.4 64.4 L256.7 68.4 L257.1 72.4 L257.5 75.5 L258.0 76.8 L258.6 76.0 L259.2 73.8 L259.9 70.7 L260.6 67.2 L261.3 64.0 L261.8 61.6 L262.2 60.0 L262.6 58.6 L263.0 57.5 L263.3 56.5 L263.5 55.8 L263.7 55.2 L264.7 31.9 L265.3 79.5 L265.6 78.4 L266.0 77.0 L266.4 75.2 L266.9 73.3 L267.4 71.3 L267.9 69.4 L268.4 67.6 L268.9 65.8 L269.4 63.9 L269.9 61.9 L270.3 59.6 L270.8 57.0 L271.2 53.8 L271.7 50.0 L272.1 46.0 L272.5 42.1 L272.9 38.6 L273.2 36.0 L273.5 34.3 L273.7 33.2 L273.9 32.6 L274.1 32.3 L274.3 32.2 L274.4 31.9 L275.0 80.0 L275.1 80.1 L275.2 80.3 L275.4 80.6 L275.6 80.6 L275.8 80.2 L276.0 79.2 L276.2 77.4 L276.5 74.8 L276.8 71.9 L277.0 68.9 L277.3 66.1 L277.6 64.0 L277.9 62.5 L278.1 61.5 L278.4 60.7 L278.7 60.1 L279.0 59.5 L279.3 58.9 L279.7 58.3 L280.1 57.9 L280.6 57.5 L281.0 57.1 L281.5 56.4 L281.9 55.5 L282.3 54.2 L282.8 52.7 L283.2 51.0 L283.6 49.1 L284.0 47.2 L284.4 45.3 L284.7 43.2 L285.1 40.8 L285.4 38.3 L285.7 36.0 L285.9 34.0 L286.1 32.6 L286.6 80.0 L286.7 80.1 L286.9 80.3 L287.1 80.6 L287.3 80.6 L287.6 80.2 L287.8 79.2 L288.0 77.4 L288.3 74.8 L288.6 71.9 L288.9 68.9 L289.2 66.1 L289.5 64.0 L289.9 62.6 L290.2 61.5 L290.6 60.8 L291.1 60.2 L291.5 59.6 L292.0 58.9 L292.5 58.2 L293.1 57.6 L293.7 57.1 L294.3 56.5 L294.9 55.7 L295.4 54.7 L295.9 53.5 L296.3 52.1 L296.8 50.5 L297.2 48.9 L297.6 47.1 L298.0 45.3 L298.5 43.2 L298.9 40.8 L299.4 38.4 L299.9 36.0 L300.2 34.0 L300.5 32.6 L301.0 80.0 L301.4 79.9 L302.1 79.8 L302.9 79.6 L303.6 79.4 L304.3 79.3 L304.7 79.2 L305.6 58.0 L306.1 57.9 L306.7 57.9 L307.5 57.8 L308.3 57.7 L309.1 57.5 L309.8 57.2 L310.4 56.8 L311.0 56.4 L311.6 55.9 L312.2 55.3 L312.7 54.6 L313.2 53.8 L313.7 52.9 L314.1 52.0 L314.6 50.9 L315.0 49.8 L315.4 48.5 L315.8 47.0 L316.2 45.2 L316.7 43.1 L317.2 40.9 L317.6 38.7 L318.0 36.7 L318.3 35.2 L318.6 34.1 L318.8 33.3 L318.9 32.8 L319.0 32.4 L319.1 32.1 L319.2 31.8 L319.7 80.0 L320.3 79.9 L321.1 79.8 L322.1 79.6 L323.1 79.4 L323.9 79.3 L324.5 79.2 L325.0 58.0 L325.3 57.9 L325.7 57.8 L326.1 57.6 L326.6 57.5 L327.1 57.3 L327.6 57.2 L328.0 57.1 L328.4 57.0 L328.9 56.9 L329.3 56.8 L329.7 56.6 L330.2 56.4 L330.7 56.1 L331.3 55.8 L331.9 55.5 L332.5 55.0 L333.1 54.5 L333.6 53.8 L334.1 52.9 L334.5 51.9 L334.9 50.8 L335.3 49.5 L335.7 48.3 L336.1 47.0 L336.5 45.7 L336.9 44.2 L337.3 42.8 L337.8 41.3 L338.2 39.9 L338.6 38.6 L339.0 37.4 L339.5 36.2 L340.0 35.1 L340.5 34.1 L340.9 33.3 L341.2 32.6 L341.4 32.2 L341.6 31.9 L341.8 31.8 L341.9 31.8 L341.9 31.8 L342.0 31.8 L342.5 80.0 L343.3 79.9 L344.5 79.8 L345.9 79.6 L347.2 79.4 L348.4 79.3 L349.2 79.2 L349.8 59.0 L350.2 58.9 L350.8 58.8 L351.5 58.7 L352.3 58.5 L353.1 58.3 L353.9 58.0 L354.7 57.7 L355.5 57.4 L356.4 57.1 L357.3 56.7 L358.1 56.2 L359.0 55.5 L359.8 54.6 L360.7 53.6 L361.5 52.5 L362.4 51.2 L363.2 50.0 L364.0 48.7 L364.8 47.4 L365.5 46.0 L366.2 44.5 L367.0 43.0 L367.6 41.6 L368.3 40.3 L368.9 39.0 L369.5 37.7 L370.1 36.5 L370.7 35.3 L371.2 34.3 L371.7 33.5 L372.2 32.9 L372.6 32.5 L373.0 32.2 L373.4 32.1 L373.7 31.9 L373.9 31.8 L374.5 80.5 L375.1 80.6 L375.9 80.7 L376.9 80.9 L378.0 81.0 L379.0 81.0 L380.0 81.0 L381.0 80.8 L382.1 80.5 L383.1 80.1 L384.1 79.8 L385.0 79.4 L385.6 79.2 L386.3 58.5 L386.8 58.4 L387.5 58.3 L388.3 58.1 L389.2 57.9 L390.1 57.7 L391.0 57.6 L391.9 57.5 L392.9 57.4 L394.0 57.4 L395.0 57.3 L396.0 57.2 L396.9 57.0 L397.7 56.7 L398.4 56.4 L399.0 56.0 L399.7 55.5 L400.3 55.0 L401.0 54.5 L401.7 54.0 L402.5 53.4 L403.2 52.8 L403.9 52.2 L404.7 51.4 L405.4 50.4 L406.1 49.2 L406.8 47.8 L407.6 46.3 L408.3 44.8 L408.9 43.3 L409.6 41.9 L410.2 40.6 L410.8 39.4 L411.4 38.2 L411.9 37.1 L412.4 36.1 L413.0 35.2 L413.6 34.4 L414.2 33.8 L414.8 33.2 L415.4 32.8 L415.9 32.4 L416.4 32.1 L416.8 31.9 L417.1 31.8 L417.4 31.8 L417.7 31.8 L417.8 31.8 L418.0 31.8 L418.6 80.5 L419.3 80.3 L420.2 80.1 L421.3 79.9 L422.5 79.6 L423.8 79.3 L425.0 79.0 L426.3 78.7 L427.7 78.3 L429.1 77.9 L430.5 77.5 L431.7 77.2 L432.5 77.0" fill="none" stroke="#ee1111" stroke-width="2.0" stroke-linejoin="round" clip-path="url(#c4)"/>

<path d="M244.5 167.8 L244.6 167.8 L244.8 167.8 L245.0 167.8 L245.3 167.8 L245.6 167.8 L246.0 167.8 L246.5 167.9 L247.2 167.9 L247.9 168.0 L248.6 168.1 L249.3 168.2 L249.9 168.3 L250.4 168.4 L250.9 168.6 L251.4 168.8 L251.9 168.9 L252.4 168.9 L252.9 168.8 L253.5 168.4 L254.2 167.8 L254.9 167.1 L255.6 166.4 L256.3 165.9 L256.9 165.8 L257.4 166.2 L257.9 167.1 L258.3 168.1 L258.8 169.2 L259.3 170.0 L259.8 170.3 L260.4 169.9 L261.1 169.0 L261.7 167.9 L262.4 166.7 L263.1 166.0 L263.8 165.8 L264.5 166.5 L265.2 167.9 L265.9 169.6 L266.5 171.3 L267.2 172.7 L267.8 173.3 L268.3 173.2 L268.8 172.6 L269.3 171.7 L269.7 170.5 L270.2 169.2 L270.7 167.8 L271.3 166.2 L272.0 164.2 L272.6 162.0 L273.3 159.9 L273.8 158.1 L274.2 156.9 L275.0 181.7 L275.3 181.0 L275.8 180.1 L276.4 179.0 L277.0 177.7 L277.6 176.3 L278.2 174.8 L278.8 173.0 L279.4 170.8 L280.1 168.4 L280.7 166.2 L281.2 164.3 L281.6 162.9 L283.0 150.0 L283.1 148.9 L283.2 147.2 L283.4 145.3 L283.6 143.3 L283.7 141.5 L283.9 140.0 L284.1 138.8 L284.2 137.7 L284.4 136.8 L284.6 136.0 L284.7 135.3 L284.8 134.8 L285.4 182.2 L285.6 181.5 L285.9 180.6 L286.3 179.4 L286.7 178.2 L287.1 176.9 L287.4 175.5 L287.7 174.0 L288.0 172.4 L288.2 170.6 L288.5 168.9 L288.8 167.4 L289.1 166.1 L289.5 165.1 L289.9 164.4 L290.3 163.8 L290.7 163.3 L291.2 162.7 L291.6 161.9 L292.0 161.0 L292.5 159.9 L292.9 158.9 L293.4 157.7 L293.8 156.5 L294.2 155.1 L294.5 153.6 L294.9 152.0 L295.2 150.3 L295.4 148.5 L295.7 146.7 L295.9 145.0 L296.1 143.2 L296.3 141.2 L296.4 139.3 L296.5 137.4 L296.6 135.9 L296.7 134.8 L297.2 183.1 L297.4 182.9 L297.8 182.8 L298.1 182.5 L298.6 182.1 L298.9 181.5 L299.3 180.5 L299.6 179.0 L299.9 177.0 L300.2 174.7 L300.5 172.4 L300.7 170.3 L301.0 168.7 L301.3 167.5 L301.5 166.7 L301.7 166.0 L301.9 165.5 L302.2 165.0 L302.6 164.4 L303.1 163.8 L303.6 163.3 L304.2 162.7 L304.9 162.2 L305.5 161.6 L306.0 161.0 L306.5 160.3 L306.9 159.7 L307.4 159.1 L307.8 158.3 L308.2 157.3 L308.6 156.0 L309.0 154.3 L309.5 152.2 L309.9 149.9 L310.4 147.5 L310.7 145.3 L311.1 143.3 L311.4 141.5 L311.7 139.8 L312.0 138.3 L312.2 136.8 L312.4 135.7 L312.5 134.8 L312.9 182.2 L313.1 182.2 L313.3 182.3 L313.5 182.4 L313.8 182.5 L314.2 182.4 L314.5 182.2 L314.9 181.9 L315.3 181.6 L315.7 181.2 L316.2 180.7 L316.6 179.9 L317.0 178.8 L317.3 177.2 L317.6 175.2 L317.9 173.0 L318.2 170.7 L318.4 168.6 L318.7 167.0 L319.0 165.8 L319.2 164.9 L319.4 164.3 L319.7 163.7 L320.0 163.2 L320.4 162.7 L320.9 162.2 L321.4 161.8 L322.0 161.5 L322.7 161.2 L323.3 160.7 L323.8 160.2 L324.3 159.6 L324.7 158.9 L325.2 158.1 L325.6 157.3 L326.0 156.3 L326.4 155.1 L326.8 153.7 L327.3 152.1 L327.7 150.4 L328.1 148.6 L328.5 146.7 L328.9 145.0 L329.3 143.2 L329.6 141.2 L330.0 139.3 L330.3 137.4 L330.6 135.9 L330.8 134.8 L331.4 183.0 L331.8 182.7 L332.4 182.2 L333.1 181.7 L333.8 181.1 L334.5 180.4 L335.0 179.7 L335.4 178.9 L335.7 178.0 L335.9 177.1 L336.1 176.1 L336.3 175.1 L336.5 174.0 L336.7 172.9 L336.9 171.7 L337.0 170.4 L337.2 169.2 L337.4 168.0 L337.6 167.0 L337.8 166.1 L338.1 165.3 L338.4 164.5 L338.6 163.8 L339.0 163.2 L339.3 162.7 L339.7 162.3 L340.1 161.9 L340.6 161.7 L341.0 161.5 L341.5 161.2 L341.9 161.0 L342.3 160.8 L342.7 160.6 L343.1 160.4 L343.6 160.1 L344.0 159.8 L344.4 159.4 L344.8 158.9 L345.3 158.3 L345.7 157.6 L346.1 156.8 L346.6 156.0 L347.0 155.1 L347.4 154.1 L347.8 153.0 L348.3 151.9 L348.7 150.7 L349.1 149.5 L349.5 148.3 L349.9 147.1 L350.3 145.7 L350.7 144.4 L351.2 143.1 L351.6 141.8 L352.0 140.7 L352.4 139.7 L352.9 138.7 L353.4 137.7 L353.9 136.9 L354.3 136.2 L354.6 135.6 L354.9 135.2 L355.1 134.9 L355.2 134.8 L355.3 134.7 L355.4 134.7 L355.5 134.6 L356.1 184.0 L356.4 183.9 L356.9 183.8 L357.4 183.6 L358.0 183.4 L358.5 183.2 L359.0 183.0 L359.4 182.8 L359.9 182.7 L360.3 182.5 L360.7 182.3 L361.1 181.9 L361.4 181.4 L361.7 180.7 L362.0 179.8 L362.3 178.9 L362.5 177.8 L362.8 176.7 L363.0 175.5 L363.2 174.2 L363.3 172.7 L363.4 171.2 L363.6 169.6 L363.7 168.2 L363.9 167.0 L364.1 166.0 L364.3 165.1 L364.6 164.4 L364.9 163.7 L365.2 163.2 L365.6 162.7 L366.0 162.4 L366.5 162.3 L367.1 162.2 L367.7 162.2 L368.3 162.1 L369.0 161.9 L369.7 161.5 L370.5 161.1 L371.4 160.6 L372.3 160.0 L373.1 159.3 L374.0 158.5 L374.9 157.6 L375.8 156.5 L376.7 155.3 L377.6 154.1 L378.4 152.9 L379.2 151.7 L379.9 150.6 L380.4 149.5 L381.0 148.3 L381.5 147.2 L382.0 146.1 L382.5 145.0 L383.1 143.8 L383.6 142.6 L384.2 141.4 L384.8 140.2 L385.3 139.1 L385.9 138.2 L386.5 137.4 L387.1 136.7 L387.7 136.1 L388.3 135.6 L388.8 135.2 L389.3 134.8 L389.7 134.6 L390.1 134.4 L390.4 134.4 L390.6 134.4 L390.8 134.4 L391.0 134.4 L391.4 182.2 L391.8 182.0 L392.3 181.8 L393.0 181.5 L393.7 181.2 L394.4 180.8 L395.2 180.5 L396.0 180.1 L396.9 179.8 L397.9 179.4 L398.8 179.0 L399.6 178.5 L400.3 178.0 L400.8 177.4 L401.1 176.8 L401.4 176.1 L401.6 175.4 L401.8 174.6 L402.0 173.8 L402.3 172.9 L402.5 171.9 L402.7 170.8 L403.0 169.7 L403.3 168.7 L403.6 167.8 L404.0 167.0 L404.3 166.2 L404.7 165.5 L405.2 164.8 L405.7 164.2 L406.2 163.6 L406.8 163.1 L407.4 162.6 L408.1 162.1 L408.9 161.7 L409.6 161.4 L410.4 161.0 L411.2 160.7 L412.0 160.5 L412.9 160.2 L413.8 160.0 L414.6 159.8 L415.5 159.4 L416.4 159.0 L417.2 158.5 L418.1 158.0 L418.9 157.4 L419.7 156.7 L420.6 156.0 L421.5 155.2 L422.4 154.2 L423.3 153.2 L424.1 152.1 L424.9 151.1 L425.7 150.0 L426.4 148.9 L427.0 147.8 L427.6 146.6 L428.1 145.4 L428.6 144.3 L429.1 143.3 L429.6 142.3 L430.1 141.3 L430.5 140.4 L430.9 139.5 L431.3 138.8 L431.6 138.2 L431.9 137.8 L432.1 137.6 L432.2 137.4 L432.3 137.4 L432.4 137.3 L432.5 137.3" fill="none" stroke="#90c890" stroke-width="4.0" stroke-linejoin="round" clip-path="url(#c5)"/>
<path d="M244.5 167.8 L244.6 167.8 L244.8 167.8 L245.0 167.8 L245.3 167.8 L245.6 167.8 L246.0 167.8 L246.5 167.9 L247.2 167.9 L247.9 168.0 L248.6 168.1 L249.3 168.2 L249.9 168.3 L250.4 168.4 L250.9 168.6 L251.4 168.8 L251.9 168.9 L252.4 168.9 L252.9 168.8 L253.5 168.4 L254.2 167.8 L254.9 167.1 L255.6 166.4 L256.3 165.9 L256.9 165.8 L257.4 166.2 L257.9 167.1 L258.3 168.1 L258.8 169.2 L259.3 170.0 L259.8 170.3 L260.4 169.9 L261.1 169.0 L261.7 167.9 L262.4 166.7 L263.1 166.0 L263.8 165.8 L264.5 166.5 L265.2 167.9 L265.9 169.6 L266.5 171.3 L267.2 172.7 L267.8 173.3 L268.3 173.2 L268.8 172.6 L269.3 171.7 L269.7 170.5 L270.2 169.2 L270.7 167.8 L271.3 166.2 L272.0 164.2 L272.6 162.0 L273.3 159.9 L273.8 158.1 L274.2 156.9 L275.0 181.7 L275.3 181.0 L275.8 180.1 L276.4 179.0 L277.0 177.7 L277.6 176.3 L278.2 174.8 L278.8 173.0 L279.4 170.8 L280.1 168.4 L280.7 166.2 L281.2 164.3 L281.6 162.9 L283.0 150.0 L283.1 148.9 L283.2 147.2 L283.4 145.3 L283.6 143.3 L283.7 141.5 L283.9 140.0 L284.1 138.8 L284.2 137.7 L284.4 136.8 L284.6 136.0 L284.7 135.3 L284.8 134.8 L285.4 182.2 L285.6 181.5 L285.9 180.6 L286.3 179.4 L286.7 178.2 L287.1 176.9 L287.4 175.5 L287.7 174.0 L288.0 172.4 L288.2 170.6 L288.5 168.9 L288.8 167.4 L289.1 166.1 L289.5 165.1 L289.9 164.4 L290.3 163.8 L290.7 163.3 L291.2 162.7 L291.6 161.9 L292.0 161.0 L292.5 159.9 L292.9 158.9 L293.4 157.7 L293.8 156.5 L294.2 155.1 L294.5 153.6 L294.9 152.0 L295.2 150.3 L295.4 148.5 L295.7 146.7 L295.9 145.0 L296.1 143.2 L296.3 141.2 L296.4 139.3 L296.5 137.4 L296.6 135.9 L296.7 134.8 L297.2 183.1 L297.4 182.9 L297.8 182.8 L298.1 182.5 L298.6 182.1 L298.9 181.5 L299.3 180.5 L299.6 179.0 L299.9 177.0 L300.2 174.7 L300.5 172.4 L300.7 170.3 L301.0 168.7 L301.3 167.5 L301.5 166.7 L301.7 166.0 L301.9 165.5 L302.2 165.0 L302.6 164.4 L303.1 163.8 L303.6 163.3 L304.2 162.7 L304.9 162.2 L305.5 161.6 L306.0 161.0 L306.5 160.3 L306.9 159.7 L307.4 159.1 L307.8 158.3 L308.2 157.3 L308.6 156.0 L309.0 154.3 L309.5 152.2 L309.9 149.9 L310.4 147.5 L310.7 145.3 L311.1 143.3 L311.4 141.5 L311.7 139.8 L312.0 138.3 L312.2 136.8 L312.4 135.7 L312.5 134.8 L312.9 182.2 L313.1 182.2 L313.3 182.3 L313.5 182.4 L313.8 182.5 L314.2 182.4 L314.5 182.2 L314.9 181.9 L315.3 181.6 L315.7 181.2 L316.2 180.7 L316.6 179.9 L317.0 178.8 L317.3 177.2 L317.6 175.2 L317.9 173.0 L318.2 170.7 L318.4 168.6 L318.7 167.0 L319.0 165.8 L319.2 164.9 L319.4 164.3 L319.7 163.7 L320.0 163.2 L320.4 162.7 L320.9 162.2 L321.4 161.8 L322.0 161.5 L322.7 161.2 L323.3 160.7 L323.8 160.2 L324.3 159.6 L324.7 158.9 L325.2 158.1 L325.6 157.3 L326.0 156.3 L326.4 155.1 L326.8 153.7 L327.3 152.1 L327.7 150.4 L328.1 148.6 L328.5 146.7 L328.9 145.0 L329.3 143.2 L329.6 141.2 L330.0 139.3 L330.3 137.4 L330.6 135.9 L330.8 134.8 L331.4 183.0 L331.8 182.7 L332.4 182.2 L333.1 181.7 L333.8 181.1 L334.5 180.4 L335.0 179.7 L335.4 178.9 L335.7 178.0 L335.9 177.1 L336.1 176.1 L336.3 175.1 L336.5 174.0 L336.7 172.9 L336.9 171.7 L337.0 170.4 L337.2 169.2 L337.4 168.0 L337.6 167.0 L337.8 166.1 L338.1 165.3 L338.4 164.5 L338.6 163.8 L339.0 163.2 L339.3 162.7 L339.7 162.3 L340.1 161.9 L340.6 161.7 L341.0 161.5 L341.5 161.2 L341.9 161.0 L342.3 160.8 L342.7 160.6 L343.1 160.4 L343.6 160.1 L344.0 159.8 L344.4 159.4 L344.8 158.9 L345.3 158.3 L345.7 157.6 L346.1 156.8 L346.6 156.0 L347.0 155.1 L347.4 154.1 L347.8 153.0 L348.3 151.9 L348.7 150.7 L349.1 149.5 L349.5 148.3 L349.9 147.1 L350.3 145.7 L350.7 144.4 L351.2 143.1 L351.6 141.8 L352.0 140.7 L352.4 139.7 L352.9 138.7 L353.4 137.7 L353.9 136.9 L354.3 136.2 L354.6 135.6 L354.9 135.2 L355.1 134.9 L355.2 134.8 L355.3 134.7 L355.4 134.7 L355.5 134.6 L356.1 184.0 L356.4 183.9 L356.9 183.8 L357.4 183.6 L358.0 183.4 L358.5 183.2 L359.0 183.0 L359.4 182.8 L359.9 182.7 L360.3 182.5 L360.7 182.3 L361.1 181.9 L361.4 181.4 L361.7 180.7 L362.0 179.8 L362.3 178.9 L362.5 177.8 L362.8 176.7 L363.0 175.5 L363.2 174.2 L363.3 172.7 L363.4 171.2 L363.6 169.6 L363.7 168.2 L363.9 167.0 L364.1 166.0 L364.3 165.1 L364.6 164.4 L364.9 163.7 L365.2 163.2 L365.6 162.7 L366.0 162.4 L366.5 162.3 L367.1 162.2 L367.7 162.2 L368.3 162.1 L369.0 161.9 L369.7 161.5 L370.5 161.1 L371.4 160.6 L372.3 160.0 L373.1 159.3 L374.0 158.5 L374.9 157.6 L375.8 156.5 L376.7 155.3 L377.6 154.1 L378.4 152.9 L379.2 151.7 L379.9 150.6 L380.4 149.5 L381.0 148.3 L381.5 147.2 L382.0 146.1 L382.5 145.0 L383.1 143.8 L383.6 142.6 L384.2 141.4 L384.8 140.2 L385.3 139.1 L385.9 138.2 L386.5 137.4 L387.1 136.7 L387.7 136.1 L388.3 135.6 L388.8 135.2 L389.3 134.8 L389.7 134.6 L390.1 134.4 L390.4 134.4 L390.6 134.4 L390.8 134.4 L391.0 134.4 L391.4 182.2 L391.8 182.0 L392.3 181.8 L393.0 181.5 L393.7 181.2 L394.4 180.8 L395.2 180.5 L396.0 180.1 L396.9 179.8 L397.9 179.4 L398.8 179.0 L399.6 178.5 L400.3 178.0 L400.8 177.4 L401.1 176.8 L401.4 176.1 L401.6 175.4 L401.8 174.6 L402.0 173.8 L402.3 172.9 L402.5 171.9 L402.7 170.8 L403.0 169.7 L403.3 168.7 L403.6 167.8 L404.0 167.0 L404.3 166.2 L404.7 165.5 L405.2 164.8 L405.7 164.2 L406.2 163.6 L406.8 163.1 L407.4 162.6 L408.1 162.1 L408.9 161.7 L409.6 161.4 L410.4 161.0 L411.2 160.7 L412.0 160.5 L412.9 160.2 L413.8 160.0 L414.6 159.8 L415.5 159.4 L416.4 159.0 L417.2 158.5 L418.1 158.0 L418.9 157.4 L419.7 156.7 L420.6 156.0 L421.5 155.2 L422.4 154.2 L423.3 153.2 L424.1 152.1 L424.9 151.1 L425.7 150.0 L426.4 148.9 L427.0 147.8 L427.6 146.6 L428.1 145.4 L428.6 144.3 L429.1 143.3 L429.6 142.3 L430.1 141.3 L430.5 140.4 L430.9 139.5 L431.3 138.8 L431.6 138.2 L431.9 137.8 L432.1 137.6 L432.2 137.4 L432.3 137.4 L432.4 137.3 L432.5 137.3" fill="none" stroke="#0c7c0c" stroke-width="2.0" stroke-linejoin="round" clip-path="url(#c5)"/>

<g fill="none" stroke="#c58ad0" stroke-width="0.8" clip-path="url(#c6)"><circle cx="245.2" cy="268.0" r="1.7"/><circle cx="246.8" cy="267.9" r="1.7"/><circle cx="248.6" cy="268.0" r="1.7"/><circle cx="250.9" cy="268.2" r="1.7"/><circle cx="253.1" cy="268.3" r="1.7"/><circle cx="255.0" cy="268.3" r="1.7"/><circle cx="256.8" cy="268.1" r="1.7"/><circle cx="258.7" cy="267.9" r="1.7"/><circle cx="260.9" cy="267.5" r="1.7"/><circle cx="263.3" cy="267.0" r="1.7"/><circle cx="265.7" cy="266.5" r="1.7"/><circle cx="268.0" cy="266.1" r="1.7"/><circle cx="270.4" cy="265.8" r="1.7"/><circle cx="272.7" cy="265.5" r="1.7"/><circle cx="275.1" cy="265.3" r="1.7"/><circle cx="277.6" cy="265.1" r="1.7"/><circle cx="279.7" cy="265.1" r="1.7"/><circle cx="281.4" cy="265.2" r="1.7"/><circle cx="283.3" cy="265.5" r="1.7"/><circle cx="284.9" cy="266.8" r="1.7"/><circle cx="285.8" cy="268.1" r="1.7"/><circle cx="287.2" cy="268.2" r="1.7"/><circle cx="288.1" cy="266.2" r="1.7"/><circle cx="289.0" cy="264.5" r="1.7"/><circle cx="290.6" cy="266.7" r="1.7"/><circle cx="291.2" cy="268.6" r="1.7"/><circle cx="291.8" cy="270.3" r="1.7"/><circle cx="293.0" cy="272.1" r="1.7"/><circle cx="294.3" cy="269.4" r="1.7"/><circle cx="295.1" cy="267.0" r="1.7"/><circle cx="295.8" cy="264.7" r="1.7"/><circle cx="296.5" cy="263.2" r="1.7"/><circle cx="297.9" cy="264.6" r="1.7"/><circle cx="298.6" cy="267.6" r="1.7"/><circle cx="299.3" cy="271.4" r="1.7"/><circle cx="300.1" cy="275.1" r="1.7"/><circle cx="300.7" cy="278.2" r="1.7"/><circle cx="301.4" cy="279.8" r="1.7"/><circle cx="302.6" cy="278.9" r="1.7"/><circle cx="303.2" cy="277.3" r="1.7"/><circle cx="303.8" cy="275.3" r="1.7"/><circle cx="304.3" cy="273.2" r="1.7"/><circle cx="304.9" cy="271.4" r="1.7"/><circle cx="305.4" cy="269.8" r="1.7"/><circle cx="306.0" cy="268.1" r="1.7"/><circle cx="306.5" cy="266.4" r="1.7"/><circle cx="307.0" cy="264.6" r="1.7"/><circle cx="307.5" cy="263.0" r="1.7"/><circle cx="308.0" cy="261.4" r="1.7"/><circle cx="308.5" cy="259.9" r="1.7"/><circle cx="308.9" cy="258.4" r="1.7"/><circle cx="309.4" cy="256.9" r="1.7"/><circle cx="310.2" cy="254.4" r="1.7"/><circle cx="310.8" cy="252.7" r="1.7"/><circle cx="312.0" cy="292.8" r="1.7"/><circle cx="312.3" cy="290.7" r="1.7"/><circle cx="312.8" cy="287.6" r="1.7"/><circle cx="313.2" cy="285.9" r="1.7"/><circle cx="313.5" cy="284.2" r="1.7"/><circle cx="313.9" cy="282.4" r="1.7"/><circle cx="314.4" cy="280.4" r="1.7"/><circle cx="314.9" cy="278.3" r="1.7"/><circle cx="315.4" cy="276.2" r="1.7"/><circle cx="315.9" cy="274.3" r="1.7"/><circle cx="316.4" cy="272.6" r="1.7"/><circle cx="316.9" cy="271.2" r="1.7"/><circle cx="317.8" cy="268.8" r="1.7"/><circle cx="318.8" cy="266.8" r="1.7"/><circle cx="319.8" cy="265.0" r="1.7"/><circle cx="320.8" cy="263.6" r="1.7"/><circle cx="321.7" cy="262.0" r="1.7"/><circle cx="322.7" cy="259.9" r="1.7"/><circle cx="323.2" cy="258.5" r="1.7"/><circle cx="323.8" cy="256.9" r="1.7"/><circle cx="324.3" cy="255.5" r="1.7"/><circle cx="325.0" cy="253.4" r="1.7"/><circle cx="326.0" cy="234.2" r="1.7"/><circle cx="326.6" cy="281.3" r="1.7"/><circle cx="327.6" cy="280.0" r="1.7"/><circle cx="328.3" cy="278.6" r="1.7"/><circle cx="329.2" cy="276.4" r="1.7"/><circle cx="330.2" cy="273.8" r="1.7"/><circle cx="331.4" cy="271.4" r="1.7"/><circle cx="332.7" cy="268.9" r="1.7"/><circle cx="334.0" cy="266.3" r="1.7"/><circle cx="334.7" cy="264.9" r="1.7"/><circle cx="335.3" cy="263.4" r="1.7"/><circle cx="336.0" cy="261.8" r="1.7"/><circle cx="336.7" cy="260.2" r="1.7"/><circle cx="337.3" cy="258.6" r="1.7"/><circle cx="337.9" cy="256.9" r="1.7"/><circle cx="338.5" cy="255.3" r="1.7"/><circle cx="339.0" cy="253.7" r="1.7"/><circle cx="339.6" cy="252.1" r="1.7"/><circle cx="340.1" cy="250.4" r="1.7"/><circle cx="340.5" cy="248.8" r="1.7"/><circle cx="341.0" cy="247.2" r="1.7"/><circle cx="341.4" cy="245.7" r="1.7"/><circle cx="341.8" cy="244.1" r="1.7"/><circle cx="342.1" cy="242.5" r="1.7"/><circle cx="342.4" cy="240.9" r="1.7"/><circle cx="342.7" cy="239.4" r="1.7"/><circle cx="343.3" cy="237.1" r="1.7"/><circle cx="344.1" cy="235.6" r="1.7"/><circle cx="345.1" cy="284.2" r="1.7"/><circle cx="346.0" cy="282.7" r="1.7"/><circle cx="346.8" cy="281.2" r="1.7"/><circle cx="347.6" cy="279.2" r="1.7"/><circle cx="348.5" cy="276.6" r="1.7"/><circle cx="349.5" cy="273.8" r="1.7"/><circle cx="350.4" cy="271.6" r="1.7"/><circle cx="351.3" cy="269.8" r="1.7"/><circle cx="352.2" cy="267.9" r="1.7"/><circle cx="353.7" cy="265.8" r="1.7"/><circle cx="354.7" cy="264.6" r="1.7"/><circle cx="355.7" cy="263.3" r="1.7"/><circle cx="356.8" cy="262.0" r="1.7"/><circle cx="357.8" cy="260.6" r="1.7"/><circle cx="358.7" cy="259.2" r="1.7"/><circle cx="359.5" cy="257.7" r="1.7"/><circle cx="360.1" cy="256.1" r="1.7"/><circle cx="360.8" cy="254.5" r="1.7"/><circle cx="361.4" cy="252.9" r="1.7"/><circle cx="361.9" cy="251.2" r="1.7"/><circle cx="362.5" cy="249.6" r="1.7"/><circle cx="363.1" cy="247.9" r="1.7"/><circle cx="363.6" cy="246.1" r="1.7"/><circle cx="364.1" cy="244.3" r="1.7"/><circle cx="364.6" cy="242.6" r="1.7"/><circle cx="365.0" cy="241.1" r="1.7"/><circle cx="365.7" cy="239.0" r="1.7"/><circle cx="366.6" cy="237.8" r="1.7"/><circle cx="367.3" cy="286.1" r="1.7"/><circle cx="368.7" cy="284.6" r="1.7"/><circle cx="369.9" cy="283.1" r="1.7"/><circle cx="371.0" cy="281.1" r="1.7"/><circle cx="372.0" cy="278.6" r="1.7"/><circle cx="373.0" cy="275.9" r="1.7"/><circle cx="373.8" cy="273.4" r="1.7"/><circle cx="374.3" cy="270.9" r="1.7"/><circle cx="374.9" cy="268.7" r="1.7"/><circle cx="375.7" cy="267.1" r="1.7"/><circle cx="377.1" cy="265.8" r="1.7"/><circle cx="378.9" cy="264.4" r="1.7"/><circle cx="380.5" cy="263.3" r="1.7"/><circle cx="382.2" cy="262.0" r="1.7"/><circle cx="383.8" cy="260.0" r="1.7"/><circle cx="385.5" cy="257.5" r="1.7"/><circle cx="386.3" cy="256.1" r="1.7"/><circle cx="387.1" cy="254.7" r="1.7"/><circle cx="387.8" cy="253.4" r="1.7"/><circle cx="389.2" cy="250.8" r="1.7"/><circle cx="390.5" cy="248.2" r="1.7"/><circle cx="391.6" cy="245.7" r="1.7"/><circle cx="392.6" cy="243.1" r="1.7"/><circle cx="393.5" cy="240.7" r="1.7"/><circle cx="394.1" cy="239.0" r="1.7"/><circle cx="394.6" cy="288.0" r="1.7"/><circle cx="396.3" cy="286.5" r="1.7"/><circle cx="397.7" cy="285.0" r="1.7"/><circle cx="399.0" cy="283.4" r="1.7"/><circle cx="400.4" cy="281.5" r="1.7"/><circle cx="401.6" cy="279.4" r="1.7"/><circle cx="402.7" cy="277.3" r="1.7"/><circle cx="403.7" cy="274.9" r="1.7"/><circle cx="404.6" cy="272.7" r="1.7"/><circle cx="405.5" cy="270.9" r="1.7"/><circle cx="406.3" cy="269.6" r="1.7"/><circle cx="407.3" cy="268.4" r="1.7"/><circle cx="408.9" cy="267.2" r="1.7"/><circle cx="411.0" cy="266.1" r="1.7"/><circle cx="413.5" cy="264.8" r="1.7"/><circle cx="415.9" cy="263.1" r="1.7"/><circle cx="417.3" cy="262.1" r="1.7"/><circle cx="418.6" cy="261.0" r="1.7"/><circle cx="419.9" cy="259.8" r="1.7"/><circle cx="421.2" cy="258.5" r="1.7"/><circle cx="422.4" cy="257.2" r="1.7"/><circle cx="423.5" cy="255.7" r="1.7"/><circle cx="424.5" cy="254.1" r="1.7"/><circle cx="425.5" cy="252.3" r="1.7"/><circle cx="426.5" cy="250.6" r="1.7"/><circle cx="427.4" cy="249.0" r="1.7"/><circle cx="428.2" cy="247.6" r="1.7"/><circle cx="429.7" cy="245.3" r="1.7"/><circle cx="431.0" cy="243.4" r="1.7"/><circle cx="432.0" cy="241.9" r="1.7"/><circle cx="432.8" cy="240.5" r="1.7"/></g>

<path d="M244.5 267.6 L244.6 267.6 L244.7 267.6 L244.9 267.5 L245.2 267.5 L245.5 267.5 L246.1 267.5 L246.9 267.5 L247.9 267.6 L249.0 267.7 L250.2 267.8 L251.3 267.9 L252.4 267.9 L253.4 267.9 L254.3 267.9 L255.2 267.8 L256.1 267.7 L257.0 267.6 L258.0 267.5 L259.1 267.3 L260.2 267.1 L261.4 266.8 L262.6 266.6 L263.8 266.3 L265.0 266.1 L266.2 265.9 L267.3 265.7 L268.5 265.5 L269.7 265.4 L270.8 265.2 L272.0 265.1 L273.2 265.0 L274.4 264.9 L275.7 264.8 L276.9 264.7 L278.0 264.7 L279.0 264.7 L279.9 264.7 L280.7 264.8 L281.4 264.8 L282.0 265.0 L282.6 265.1 L283.2 265.4 L283.7 265.8 L284.2 266.4 L284.7 267.1 L285.1 267.7 L285.5 268.1 L286.0 268.2 L286.5 267.8 L286.9 266.9 L287.4 265.8 L287.8 264.8 L288.3 264.1 L288.8 264.0 L289.3 264.8 L289.9 266.3 L290.5 268.2 L291.1 269.9 L291.7 271.3 L292.3 271.7 L293.0 270.9 L293.6 269.0 L294.4 266.6 L295.1 264.3 L295.8 262.8 L296.5 262.6 L297.2 264.2 L297.9 267.2 L298.6 271.0 L299.4 274.7 L300.0 277.8 L300.7 279.4 L301.3 279.5 L301.9 278.5 L302.5 276.9 L303.1 274.9 L303.6 272.8 L304.2 271.0 L304.7 269.4 L305.3 267.7 L305.8 266.0 L306.3 264.2 L306.8 262.6 L307.3 261.0 L307.8 259.5 L308.2 258.0 L308.7 256.5 L309.1 255.1 L309.5 254.0 L309.8 253.0 L310.1 252.3 L310.3 251.8 L310.5 251.6 L310.7 251.4 L310.8 251.2 L310.9 251.1 L311.3 292.4 L311.4 291.5 L311.6 290.3 L311.9 288.8 L312.1 287.2 L312.5 285.5 L312.8 283.8 L313.2 282.0 L313.7 280.0 L314.2 277.9 L314.7 275.8 L315.2 273.9 L315.7 272.2 L316.2 270.8 L316.7 269.5 L317.1 268.4 L317.6 267.4 L318.1 266.4 L318.6 265.5 L319.1 264.6 L319.6 263.9 L320.1 263.2 L320.5 262.4 L321.0 261.6 L321.5 260.7 L322.0 259.5 L322.5 258.1 L323.1 256.5 L323.6 255.1 L324.0 253.9 L324.3 253.0 L325.3 233.8 L325.9 280.9 L326.0 280.8 L326.2 280.6 L326.4 280.4 L326.6 280.1 L326.9 279.6 L327.2 279.0 L327.6 278.2 L328.0 277.1 L328.5 276.0 L329.0 274.7 L329.5 273.4 L330.1 272.2 L330.7 271.0 L331.3 269.8 L332.0 268.5 L332.7 267.2 L333.3 265.9 L334.0 264.5 L334.6 263.0 L335.3 261.4 L336.0 259.8 L336.6 258.2 L337.2 256.5 L337.8 254.9 L338.3 253.3 L338.9 251.7 L339.4 250.0 L339.8 248.4 L340.3 246.8 L340.7 245.3 L341.1 243.7 L341.4 242.1 L341.7 240.5 L342.0 239.0 L342.3 237.7 L342.6 236.7 L342.9 236.0 L343.2 235.5 L343.4 235.2 L343.7 235.0 L343.9 234.8 L344.0 234.7 L344.4 283.8 L344.6 283.4 L344.9 282.9 L345.3 282.3 L345.7 281.6 L346.1 280.8 L346.5 279.9 L346.9 278.8 L347.4 277.5 L347.9 276.2 L348.3 274.8 L348.8 273.4 L349.3 272.2 L349.7 271.2 L350.2 270.2 L350.6 269.4 L351.0 268.5 L351.5 267.5 L352.2 266.5 L353.0 265.4 L354.0 264.2 L355.0 262.9 L356.1 261.6 L357.1 260.2 L358.0 258.8 L358.8 257.3 L359.4 255.7 L360.1 254.1 L360.7 252.5 L361.2 250.8 L361.8 249.2 L362.4 247.5 L362.9 245.7 L363.4 243.9 L363.9 242.2 L364.3 240.7 L364.7 239.5 L365.0 238.6 L365.4 238.0 L365.6 237.6 L365.9 237.4 L366.1 237.2 L366.2 237.0 L366.6 285.7 L367.0 285.3 L367.4 284.8 L368.0 284.2 L368.6 283.5 L369.2 282.7 L369.8 281.8 L370.3 280.7 L370.8 279.5 L371.3 278.2 L371.8 276.8 L372.3 275.5 L372.7 274.2 L373.1 273.0 L373.4 271.7 L373.6 270.5 L373.9 269.3 L374.2 268.3 L374.6 267.4 L375.0 266.7 L375.4 266.2 L375.9 265.8 L376.4 265.4 L376.9 265.0 L377.5 264.5 L378.2 264.0 L379.0 263.4 L379.8 262.9 L380.6 262.3 L381.5 261.6 L382.3 260.7 L383.1 259.6 L383.9 258.4 L384.8 257.1 L385.6 255.7 L386.4 254.3 L387.1 253.0 L387.8 251.7 L388.5 250.4 L389.1 249.1 L389.8 247.8 L390.4 246.5 L390.9 245.3 L391.4 244.0 L391.9 242.7 L392.4 241.5 L392.8 240.3 L393.1 239.3 L393.4 238.6 L393.9 287.6 L394.3 287.2 L394.9 286.7 L395.6 286.1 L396.3 285.4 L397.0 284.6 L397.7 283.8 L398.3 283.0 L399.0 282.0 L399.7 281.1 L400.3 280.1 L400.9 279.0 L401.5 278.0 L402.0 276.9 L402.5 275.7 L403.0 274.5 L403.5 273.4 L403.9 272.3 L404.4 271.3 L404.8 270.5 L405.2 269.8 L405.6 269.2 L406.1 268.6 L406.6 268.0 L407.3 267.4 L408.2 266.8 L409.2 266.2 L410.4 265.7 L411.6 265.1 L412.8 264.4 L414.0 263.6 L415.2 262.7 L416.6 261.7 L417.9 260.6 L419.2 259.4 L420.5 258.1 L421.7 256.8 L422.8 255.3 L423.8 253.7 L424.8 251.9 L425.8 250.2 L426.7 248.6 L427.5 247.2 L428.3 246.0 L429.0 244.9 L429.7 243.9 L430.3 243.0 L430.8 242.2 L431.3 241.5 L431.7 240.9 L431.9 240.5 L432.1 240.1 L432.3 239.9 L432.4 239.7 L432.5 239.5" fill="none" stroke="#800080" stroke-width="1.9" stroke-linejoin="round" clip-path="url(#c6)"/>

<rect x="56" y="0" width="379" height="1.6" fill="#8a8a8a"/>
<rect x="55.8" y="0" width="1.7" height="310.6" fill="#7a7a7a"/>
<rect x="431.9" y="0" width="1.7" height="310.6" fill="#7a7a7a"/>
<rect x="56" y="102.8" width="378" height="1.1" fill="#2a2a2a"/>
<rect x="56" y="205.2" width="378" height="1.1" fill="#2a2a2a"/>
<rect x="56" y="307.8" width="377" height="1.1" fill="#2a2a2a"/>
<rect x="243.3" y="0" width="2.8" height="309" fill="#000"/>
<rect x="244.2" y="308" width="1.1" height="3.4" fill="#222"/>
<rect x="53.2" y="23.20" width="3" height="1.2" fill="#2a2a2a"/>
<rect x="53.2" y="47.00" width="3" height="1.2" fill="#2a2a2a"/>
<rect x="53.2" y="70.70" width="3" height="1.2" fill="#2a2a2a"/>
<rect x="53.2" y="94.50" width="3" height="1.2" fill="#2a2a2a"/>
<rect x="54.6" y="35.15" width="1.6" height="1.1" fill="#2a2a2a"/>
<rect x="54.6" y="58.90" width="1.6" height="1.1" fill="#2a2a2a"/>
<rect x="54.6" y="82.65" width="1.6" height="1.1" fill="#2a2a2a"/>
<rect x="54.6" y="11.35" width="1.6" height="1.1" fill="#2a2a2a"/>
<rect x="53.2" y="125.20" width="3" height="1.2" fill="#2a2a2a"/>
<rect x="53.2" y="149.20" width="3" height="1.2" fill="#2a2a2a"/>
<rect x="53.2" y="173.20" width="3" height="1.2" fill="#2a2a2a"/>
<rect x="53.2" y="197.40" width="3" height="1.2" fill="#2a2a2a"/>
<rect x="54.6" y="137.25" width="1.6" height="1.1" fill="#2a2a2a"/>
<rect x="54.6" y="161.25" width="1.6" height="1.1" fill="#2a2a2a"/>
<rect x="54.6" y="185.35" width="1.6" height="1.1" fill="#2a2a2a"/>
<rect x="54.6" y="113.25" width="1.6" height="1.1" fill="#2a2a2a"/>
<rect x="53.2" y="222.40" width="3" height="1.2" fill="#2a2a2a"/>
<rect x="53.2" y="247.90" width="3" height="1.2" fill="#2a2a2a"/>
<rect x="53.2" y="273.40" width="3" height="1.2" fill="#2a2a2a"/>
<rect x="53.2" y="299.00" width="3" height="1.2" fill="#2a2a2a"/>
<rect x="54.6" y="235.20" width="1.6" height="1.1" fill="#2a2a2a"/>
<rect x="54.6" y="260.70" width="1.6" height="1.1" fill="#2a2a2a"/>
<rect x="54.6" y="286.25" width="1.6" height="1.1" fill="#2a2a2a"/>
<rect x="54.6" y="209.70" width="1.6" height="1.1" fill="#2a2a2a"/>
<rect x="433.4" y="13.80" width="2.6" height="1.2" fill="#2a2a2a"/>
<rect x="433.4" y="41.00" width="2.6" height="1.2" fill="#2a2a2a"/>
<rect x="433.4" y="68.30" width="2.6" height="1.2" fill="#2a2a2a"/>
<rect x="433.4" y="95.50" width="2.6" height="1.2" fill="#2a2a2a"/>
<rect x="433.4" y="27.45" width="1.6" height="1.1" fill="#2a2a2a"/>
<rect x="433.4" y="54.70" width="1.6" height="1.1" fill="#2a2a2a"/>
<rect x="433.4" y="81.95" width="1.6" height="1.1" fill="#2a2a2a"/>
<rect x="433.4" y="116.60" width="2.6" height="1.2" fill="#2a2a2a"/>
<rect x="433.4" y="143.60" width="2.6" height="1.2" fill="#2a2a2a"/>
<rect x="433.4" y="170.80" width="2.6" height="1.2" fill="#2a2a2a"/>
<rect x="433.4" y="198.00" width="2.6" height="1.2" fill="#2a2a2a"/>
<rect x="433.4" y="130.15" width="1.6" height="1.1" fill="#2a2a2a"/>
<rect x="433.4" y="157.25" width="1.6" height="1.1" fill="#2a2a2a"/>
<rect x="433.4" y="184.45" width="1.6" height="1.1" fill="#2a2a2a"/>
<rect x="433.4" y="218.00" width="2.6" height="1.2" fill="#2a2a2a"/>
<rect x="433.4" y="245.50" width="2.6" height="1.2" fill="#2a2a2a"/>
<rect x="433.4" y="273.00" width="2.6" height="1.2" fill="#2a2a2a"/>
<rect x="433.4" y="300.50" width="2.6" height="1.2" fill="#2a2a2a"/>
<rect x="433.4" y="231.80" width="1.6" height="1.1" fill="#2a2a2a"/>
<rect x="433.4" y="259.30" width="1.6" height="1.1" fill="#2a2a2a"/>
<rect x="433.4" y="286.80" width="1.6" height="1.1" fill="#2a2a2a"/>
<rect x="87.75" y="100.8" width="1.1" height="5" fill="#2a2a2a"/>
<rect x="150.35" y="100.8" width="1.1" height="5" fill="#2a2a2a"/>
<rect x="212.95" y="100.8" width="1.1" height="5" fill="#2a2a2a"/>
<rect x="119.05" y="101.8" width="1.1" height="3" fill="#2a2a2a"/>
<rect x="181.65" y="101.8" width="1.1" height="3" fill="#2a2a2a"/>
<rect x="87.75" y="203.3" width="1.1" height="5" fill="#2a2a2a"/>
<rect x="150.35" y="203.3" width="1.1" height="5" fill="#2a2a2a"/>
<rect x="212.95" y="203.3" width="1.1" height="5" fill="#2a2a2a"/>
<rect x="119.05" y="204.3" width="1.1" height="3" fill="#2a2a2a"/>
<rect x="181.65" y="204.3" width="1.1" height="3" fill="#2a2a2a"/>
<rect x="87.75" y="308.4" width="1.1" height="3.4" fill="#2a2a2a"/>
<rect x="87.75" y="0" width="1.1" height="2.7" fill="#2a2a2a"/>
<rect x="150.35" y="308.4" width="1.1" height="3.4" fill="#2a2a2a"/>
<rect x="150.35" y="0" width="1.1" height="2.7" fill="#2a2a2a"/>
<rect x="212.95" y="308.4" width="1.1" height="3.4" fill="#2a2a2a"/>
<rect x="212.95" y="0" width="1.1" height="2.7" fill="#2a2a2a"/>
<rect x="119.05" y="308.4" width="1.1" height="2.4" fill="#2a2a2a"/>
<rect x="119.05" y="0" width="1.1" height="2.5" fill="#2a2a2a"/>
<rect x="181.65" y="308.4" width="1.1" height="2.4" fill="#2a2a2a"/>
<rect x="181.65" y="0" width="1.1" height="2.5" fill="#2a2a2a"/>
<rect x="275.75" y="100.8" width="1.1" height="5" fill="#2a2a2a"/>
<rect x="338.35" y="100.8" width="1.1" height="5" fill="#2a2a2a"/>
<rect x="400.95" y="100.8" width="1.1" height="5" fill="#2a2a2a"/>
<rect x="307.05" y="101.8" width="1.1" height="3" fill="#2a2a2a"/>
<rect x="369.65" y="101.8" width="1.1" height="3" fill="#2a2a2a"/>
<rect x="275.75" y="203.3" width="1.1" height="5" fill="#2a2a2a"/>
<rect x="338.35" y="203.3" width="1.1" height="5" fill="#2a2a2a"/>
<rect x="400.95" y="203.3" width="1.1" height="5" fill="#2a2a2a"/>
<rect x="307.05" y="204.3" width="1.1" height="3" fill="#2a2a2a"/>
<rect x="369.65" y="204.3" width="1.1" height="3" fill="#2a2a2a"/>
<rect x="275.75" y="308.4" width="1.1" height="3.4" fill="#2a2a2a"/>
<rect x="275.75" y="0" width="1.1" height="2.7" fill="#2a2a2a"/>
<rect x="338.35" y="308.4" width="1.1" height="3.4" fill="#2a2a2a"/>
<rect x="338.35" y="0" width="1.1" height="2.7" fill="#2a2a2a"/>
<rect x="400.95" y="308.4" width="1.1" height="3.4" fill="#2a2a2a"/>
<rect x="400.95" y="0" width="1.1" height="2.7" fill="#2a2a2a"/>
<rect x="307.05" y="308.4" width="1.1" height="2.4" fill="#2a2a2a"/>
<rect x="307.05" y="0" width="1.1" height="2.5" fill="#2a2a2a"/>
<rect x="369.65" y="308.4" width="1.1" height="2.4" fill="#2a2a2a"/>
<rect x="369.65" y="0" width="1.1" height="2.5" fill="#2a2a2a"/>
<text x="51.4" y="27.9" text-anchor="end" font-size="15.5" font-family="Liberation Sans, Arial, sans-serif" stroke="#000" stroke-width="0.35">90</text>
<text x="51.4" y="51.7" text-anchor="end" font-size="15.5" font-family="Liberation Sans, Arial, sans-serif" stroke="#000" stroke-width="0.35">60</text>
<text x="51.4" y="75.4" text-anchor="end" font-size="15.5" font-family="Liberation Sans, Arial, sans-serif" stroke="#000" stroke-width="0.35">30</text>
<text x="51.4" y="99.2" text-anchor="end" font-size="15.5" font-family="Liberation Sans, Arial, sans-serif" stroke="#000" stroke-width="0.35">0</text>
<text x="51.4" y="129.9" text-anchor="end" font-size="15.5" font-family="Liberation Sans, Arial, sans-serif" stroke="#000" stroke-width="0.35">90</text>
<text x="51.4" y="153.9" text-anchor="end" font-size="15.5" font-family="Liberation Sans, Arial, sans-serif" stroke="#000" stroke-width="0.35">60</text>
<text x="51.4" y="177.9" text-anchor="end" font-size="15.5" font-family="Liberation Sans, Arial, sans-serif" stroke="#000" stroke-width="0.35">30</text>
<text x="51.4" y="202.1" text-anchor="end" font-size="15.5" font-family="Liberation Sans, Arial, sans-serif" stroke="#000" stroke-width="0.35">0</text>
<text x="51.4" y="227.1" text-anchor="end" font-size="15.5" font-family="Liberation Sans, Arial, sans-serif" stroke="#000" stroke-width="0.35">90</text>
<text x="51.4" y="252.6" text-anchor="end" font-size="15.5" font-family="Liberation Sans, Arial, sans-serif" stroke="#000" stroke-width="0.35">60</text>
<text x="51.4" y="278.1" text-anchor="end" font-size="15.5" font-family="Liberation Sans, Arial, sans-serif" stroke="#000" stroke-width="0.35">30</text>
<text x="51.4" y="303.7" text-anchor="end" font-size="15.5" font-family="Liberation Sans, Arial, sans-serif" stroke="#000" stroke-width="0.35">0</text>
<text x="438.1" y="18.5" font-size="15.5" font-family="Liberation Sans, Arial, sans-serif" stroke="#000" stroke-width="0.35">400</text>
<text x="438.1" y="45.7" font-size="15.5" font-family="Liberation Sans, Arial, sans-serif" stroke="#000" stroke-width="0.35">200</text>
<text x="438.1" y="73.0" font-size="15.5" font-family="Liberation Sans, Arial, sans-serif" stroke="#000" stroke-width="0.35">0</text>
<text x="438.1" y="100.2" font-size="15.5" font-family="Liberation Sans, Arial, sans-serif" stroke="#000" stroke-width="0.35">-200</text>
<text x="438.1" y="121.3" font-size="15.5" font-family="Liberation Sans, Arial, sans-serif" stroke="#000" stroke-width="0.35">400</text>
<text x="438.1" y="148.3" font-size="15.5" font-family="Liberation Sans, Arial, sans-serif" stroke="#000" stroke-width="0.35">200</text>
<text x="438.1" y="175.5" font-size="15.5" font-family="Liberation Sans, Arial, sans-serif" stroke="#000" stroke-width="0.35">0</text>
<text x="438.1" y="202.7" font-size="15.5" font-family="Liberation Sans, Arial, sans-serif" stroke="#000" stroke-width="0.35">-200</text>
<text x="438.1" y="222.7" font-size="15.5" font-family="Liberation Sans, Arial, sans-serif" stroke="#000" stroke-width="0.35">400</text>
<text x="438.1" y="250.2" font-size="15.5" font-family="Liberation Sans, Arial, sans-serif" stroke="#000" stroke-width="0.35">200</text>
<text x="438.1" y="277.7" font-size="15.5" font-family="Liberation Sans, Arial, sans-serif" stroke="#000" stroke-width="0.35">0</text>
<text x="438.1" y="305.2" font-size="15.5" font-family="Liberation Sans, Arial, sans-serif" stroke="#000" stroke-width="0.35">-200</text>
<text x="88.3" y="325.2" text-anchor="middle" font-size="15" font-family="Liberation Sans, Arial, sans-serif" stroke="#000" stroke-width="0.35">400</text>
<text x="150.9" y="325.2" text-anchor="middle" font-size="15" font-family="Liberation Sans, Arial, sans-serif" stroke="#000" stroke-width="0.35">600</text>
<text x="213.5" y="325.2" text-anchor="middle" font-size="15" font-family="Liberation Sans, Arial, sans-serif" stroke="#000" stroke-width="0.35">800</text>
<text x="276.3" y="325.2" text-anchor="middle" font-size="15" font-family="Liberation Sans, Arial, sans-serif" stroke="#000" stroke-width="0.35">400</text>
<text x="338.9" y="325.2" text-anchor="middle" font-size="15" font-family="Liberation Sans, Arial, sans-serif" stroke="#000" stroke-width="0.35">600</text>
<text x="401.5" y="325.2" text-anchor="middle" font-size="15" font-family="Liberation Sans, Arial, sans-serif" stroke="#000" stroke-width="0.35">800</text>
<text x="84.5" y="350" font-size="17.5" font-family="Liberation Sans, Arial, sans-serif" stroke="#000" stroke-width="0.35">Wavelength (nm)</text>
<text x="279.3" y="350" font-size="17.5" font-family="Liberation Sans, Arial, sans-serif" stroke="#000" stroke-width="0.35">Wavelength (nm)</text>
<text transform="translate(15.2,211.2) rotate(-90)" font-size="20.5" font-family="Liberation Sans, Arial, sans-serif" stroke="#000" stroke-width="0.35"><tspan font-family="DejaVu Serif, Liberation Serif, serif" font-size="19.6" stroke-width="0.2" dy="0.9">&#936;</tspan><tspan dx="-0.8" dy="-0.9"> (degree)</tspan></text>
<text transform="translate(485,107.5) rotate(90)" font-size="20.8" font-family="Liberation Sans, Arial, sans-serif" stroke="#000" stroke-width="0.35"><tspan font-family="Liberation Serif, Times New Roman, serif" stroke-width="0.5">&#916;</tspan><tspan dx="-1.6"> (degree)</tspan></text>
<rect x="180.6" y="7.9" width="7.5" height="6.6" fill="none" stroke="#e85050" stroke-width="1"/>
<text x="201.6" y="16" font-size="15.4" font-family="Liberation Sans, Arial, sans-serif" stroke="#000" stroke-width="0.35">3nm</text>
<path d="M185 109.6 L190.5 115.1 L185 120.6 L179.5 115.1 Z" fill="none" stroke="#5fa85f" stroke-width="1"/>
<text x="201.8" y="119.8" font-size="15.4" font-family="Liberation Sans, Arial, sans-serif" stroke="#000" stroke-width="0.35">5nm</text>
<circle cx="180.6" cy="217.8" r="4.2" fill="none" stroke="#b070c0" stroke-width="1"/>
<text x="197.7" y="222.6" font-size="15.4" font-family="Liberation Sans, Arial, sans-serif" stroke="#000" stroke-width="0.35">8nm</text>
</svg>
</body></html>
